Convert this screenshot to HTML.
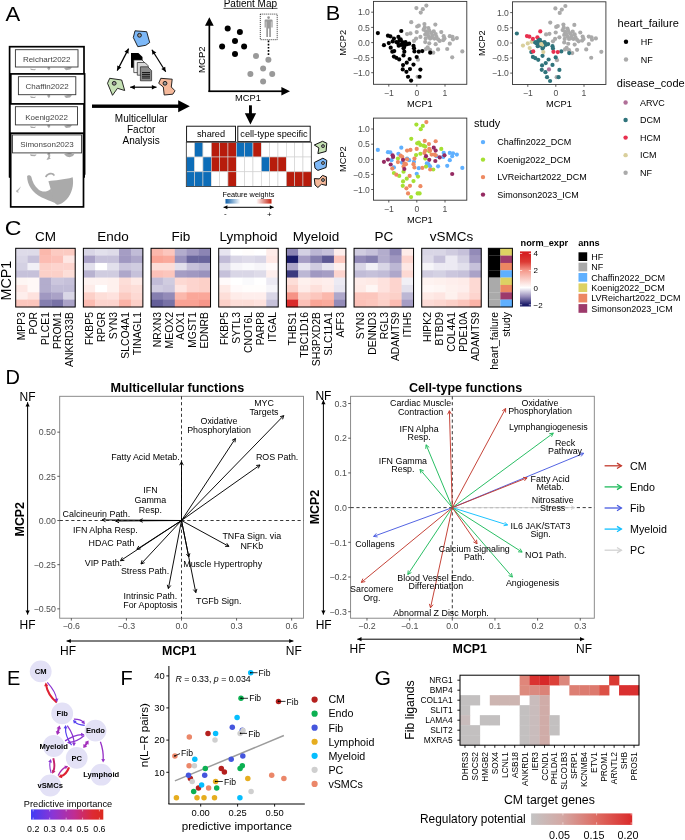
<!DOCTYPE html>
<html lang="en"><head><meta charset="utf-8"><title>Figure</title>
<style>
html,body{margin:0;padding:0;background:#fff;}
svg{display:block;font-family:"Liberation Sans",Arial,Helvetica,sans-serif;}
</style></head>
<body>
<svg width="685" height="840" viewBox="0 0 685 840">
<rect x="0" y="0" width="685" height="840" fill="#ffffff"/>
<g id="panelA">
<text transform="translate(5.6,21.2) scale(1.1,1)" font-size="20">A</text>
<rect x="9.60" y="46.70" width="74.40" height="130.00" fill="#fff" stroke="#000" stroke-width="1.7"/>
<path d="M30,68.5 l4,0.8 l2,-0.6 l-1,1.6 l-4,-0.2z M47,68.0 l2.2,-1.8 l1.2,2 l-1.5,2.2z M64,68.0 l5,-1 l3,0.4 l-2,2.2 l-4,0.6z" fill="#aaaaaa"/>
<rect x="15.40" y="49.70" width="62.60" height="17.30" fill="#fff" stroke="#333" stroke-width="0.9"/>
<text x="46.70" y="62.20" font-size="8" text-anchor="middle" fill="#444">Reichart2022</text>
<rect x="10.80" y="73.90" width="73.80" height="100.00" fill="#fff" stroke="#000" stroke-width="1.7"/>
<path d="M30,96.3 l4,0.8 l2,-0.6 l-1,1.6 l-4,-0.2z M47,95.8 l2.2,-1.8 l1.2,2 l-1.5,2.2z M64,95.8 l5,-1 l3,0.4 l-2,2.2 l-4,0.6z" fill="#aaaaaa"/>
<rect x="18.40" y="76.70" width="57.40" height="18.00" fill="#fff" stroke="#333" stroke-width="0.9"/>
<text x="47.10" y="89.30" font-size="8" text-anchor="middle" fill="#444">Chaffin2022</text>
<rect x="9.90" y="103.90" width="74.10" height="72.80" fill="#fff" stroke="#000" stroke-width="1.7"/>
<path d="M30,126.3 l4,0.8 l2,-0.6 l-1,1.6 l-4,-0.2z M47,125.8 l2.2,-1.8 l1.2,2 l-1.5,2.2z M64,125.8 l5,-1 l3,0.4 l-2,2.2 l-4,0.6z" fill="#aaaaaa"/>
<rect x="15.40" y="106.70" width="62.10" height="18.20" fill="#fff" stroke="#333" stroke-width="0.9"/>
<text x="46.50" y="119.80" font-size="8" text-anchor="middle" fill="#444">Koenig2022</text>
<rect x="10.70" y="133.20" width="72.80" height="73.70" fill="#fff" stroke="#000" stroke-width="1.7"/>
<path d="M30,154.4 l4,0.8 l2,-0.6 l-1,1.6 l-4,-0.2z M47,153.9 l2.2,-1.8 l1.2,2 l-1.5,2.2z M64,153.9 l5,-1 l3,0.4 l-2,2.2 l-4,0.6z" fill="#aaaaaa"/>
<path d="M46.5,160 l2.6,-5 l1.4,0.6 l-0.8,2.2 l1.2,0.6 l-2.4,1.2z M65.5,154.6 l9,-0.8 l-1.5,2.2 l-3.5,1.2 l-3,-0.8z M30,154.6 l7,0.2 l-2,1 l-3.5,0.2z" fill="#aaaaaa"/>
<rect x="12.40" y="134.90" width="69.20" height="18.00" fill="#fff" stroke="#333" stroke-width="0.9"/>
<text x="47.00" y="146.80" font-size="8" text-anchor="middle" fill="#444">Simonson2023</text>
<path d="M27.1,176.3 C27.1,184.2 31.9,192.7 41.8,197.6 C45.7,199.4 50.3,201.2 54.9,203.1 L53.9,195.3 L50.6,188.9 C46.4,192.3 42.4,192.3 38.5,189.4 C34.6,186.1 32.3,181.5 31.3,176.7 C30.0,175.0 27.6,175.0 27.1,176.3 Z" fill="#aaaaaa"/>
<path d="M48.4,181.3 C54.9,180.0 64.1,180.0 72.7,177.3 C74.0,185.5 72.0,193.4 66.8,199.3 C63.5,202.8 60.2,204.5 57.6,204.7 C55.6,204.1 54.3,202.6 53.4,199.9 C52.0,194.0 50.3,187.4 48.4,181.3 Z" fill="#aaaaaa"/>
<path d="M45.1,176.9 C45.7,173.0 53.0,171.0 54.9,175.0 L53.9,176.3 C52.3,173.6 47.7,174.3 46.8,177.3 Z" fill="#aaaaaa"/>
<path d="M15.8,191.0 L18.1,189.2 L21.0,186.3 L19.7,188.9 L18.1,191.0 L18.7,192.8 L16.8,192.3 Z" fill="#b5b5b5"/>
<polygon points="135.00,30.80 146.70,31.70 149.70,42.50 145.80,45.30 137.80,46.70 133.30,37.50" fill="#7db8f7" stroke="#111" stroke-width="0.9" stroke-linejoin="round"/>
<circle cx="139.50" cy="35.30" r="1.90" fill="#999" stroke="#111" stroke-width="0.9"/>
<polygon points="109.70,78.30 121.70,80.00 124.70,90.50 117.50,88.30 112.50,95.30 107.50,83.30" fill="#c6e2b5" stroke="#111" stroke-width="0.9" stroke-linejoin="round"/>
<circle cx="114.20" cy="83.30" r="1.90" fill="#999" stroke="#111" stroke-width="0.9"/>
<polygon points="160.80,78.30 172.20,79.20 171.30,87.00 175.00,90.80 172.80,94.20 164.20,95.00 163.30,87.00 158.70,83.30" fill="#f5b99b" stroke="#111" stroke-width="0.9" stroke-linejoin="round"/>
<circle cx="165.00" cy="83.30" r="1.90" fill="#999" stroke="#111" stroke-width="0.9"/>
<path d="M131,53 h7.4 l4.1,4.1 v10.6 h-11.5z" fill="#000"/>
<path d="M133.8,60 h8.2 l3.6,3.6 v9 h-11.8z" fill="#f4f4f4" stroke="#222" stroke-width="0.7"/>
<path d="M137.3,62.5 h7.6 l3.3,3.3 v9.4 h-10.9z" fill="#d8d8d8" stroke="#222" stroke-width="0.7"/>
<path d="M140.4,66.8 h7.4 l3.8,3.8 v10.2 h-11.2z" fill="#8c8c8c" stroke="#222" stroke-width="0.7"/>
<line x1="142.00" y1="72.60" x2="150.00" y2="72.60" stroke="#111" stroke-width="1.0"/>
<line x1="142.00" y1="74.40" x2="150.00" y2="74.40" stroke="#111" stroke-width="1.0"/>
<line x1="142.00" y1="76.20" x2="150.00" y2="76.20" stroke="#111" stroke-width="1.0"/>
<line x1="142.00" y1="78.00" x2="150.00" y2="78.00" stroke="#111" stroke-width="1.0"/>
<line x1="128.60" y1="48.60" x2="117.20" y2="70.60" stroke="#000" stroke-width="1.2"/>
<polygon points="117.20,70.60 117.27,65.46 121.36,67.57" fill="#000"/>
<polygon points="128.60,48.60 124.44,51.63 128.53,53.74" fill="#000"/>
<line x1="151.90" y1="49.70" x2="165.70" y2="71.80" stroke="#000" stroke-width="1.2"/>
<polygon points="165.70,71.80 161.31,69.12 165.21,66.68" fill="#000"/>
<polygon points="151.90,49.70 152.39,54.82 156.29,52.38" fill="#000"/>
<line x1="130.20" y1="87.20" x2="156.50" y2="87.20" stroke="#000" stroke-width="1.2"/>
<polygon points="156.50,87.20 151.90,89.50 151.90,84.90" fill="#000"/>
<polygon points="130.20,87.20 134.80,89.50 134.80,84.90" fill="#000"/>
<rect x="92.00" y="104.50" width="88.00" height="3.40" fill="#000" stroke="none" stroke-width="1"/>
<polygon points="189.8,106.2 178.2,100.2 178.2,112.2" fill="#000"/>
<text x="141.20" y="121.80" font-size="10" text-anchor="middle" fill="#000">Multicellular</text>
<text x="141.20" y="133.00" font-size="10" text-anchor="middle" fill="#000">Factor</text>
<text x="141.20" y="144.00" font-size="10" text-anchor="middle" fill="#000">Analysis</text>
<text x="250.40" y="6.90" font-size="10" text-anchor="middle" fill="#000">Patient Map</text>
<line x1="223.50" y1="8.40" x2="277.50" y2="8.40" stroke="#000" stroke-width="0.7"/>
<rect x="208.50" y="24.00" width="1.70" height="68.00" fill="#000" stroke="none" stroke-width="1"/>
<rect x="208.50" y="90.40" width="74.00" height="1.70" fill="#000" stroke="none" stroke-width="1"/>
<polygon points="209.35,17.2 205,25.8 213.7,25.8" fill="#000"/>
<polygon points="290,91.25 281.4,86.9 281.4,95.6" fill="#000"/>
<circle cx="227.70" cy="28.60" r="3.0" fill="#000"/>
<circle cx="239.90" cy="32.10" r="3.0" fill="#000"/>
<circle cx="235.00" cy="41.00" r="3.0" fill="#000"/>
<circle cx="222.10" cy="46.60" r="3.0" fill="#000"/>
<circle cx="244.10" cy="46.60" r="3.0" fill="#000"/>
<circle cx="235.00" cy="54.10" r="3.0" fill="#000"/>
<circle cx="256.00" cy="55.90" r="3.0" fill="#999"/>
<circle cx="268.40" cy="59.70" r="3.0" fill="#999"/>
<circle cx="263.10" cy="68.60" r="3.0" fill="#999"/>
<circle cx="250.40" cy="73.90" r="3.0" fill="#999"/>
<circle cx="272.20" cy="73.90" r="3.0" fill="#999"/>
<circle cx="263.10" cy="81.60" r="3.0" fill="#999"/>
<rect x="260.30" y="14.10" width="16.90" height="25.60" fill="#fff" stroke="#000" stroke-width="0.8" stroke-dasharray="1,1"/>
<line x1="268.50" y1="40.50" x2="268.50" y2="56.50" stroke="#000" stroke-width="1.6" stroke-dasharray="1.7,1.5"/>
<circle cx="268.60" cy="17.60" r="1.35" fill="#999"/>
<path d="M265.6,19.6 h6 q1,0 1,1 v7 h-1.2 v-6 h-0.5 v15.4 h-1.7 v-8.6 h-1.2 v8.6 h-1.7 v-15.4 h-0.5 v6 h-1.2 v-7 q0,-1 1,-1z" fill="#999"/>
<text x="204.70" y="59.70" font-size="9.6" text-anchor="middle" fill="#000" transform="rotate(-90 204.70 59.70)">MCP2</text>
<text x="248.00" y="100.90" font-size="9.3" text-anchor="middle" fill="#000">MCP1</text>
<rect x="249.00" y="105.30" width="2.90" height="9.00" fill="#000" stroke="none" stroke-width="1"/>
<polygon points="250.45,124.6 244.8,113.2 256.1,113.2" fill="#000"/>
<rect x="186.60" y="126.20" width="48.90" height="15.40" fill="#fff" stroke="#000" stroke-width="0.9"/>
<text x="211.00" y="137.40" font-size="9.2" text-anchor="middle" fill="#000">shared</text>
<rect x="237.80" y="126.20" width="72.40" height="15.40" fill="#fff" stroke="#000" stroke-width="0.9"/>
<text x="274.00" y="137.40" font-size="9.2" text-anchor="middle" fill="#000">cell-type specific</text>
<rect x="186.30" y="142.20" width="8.33" height="14.80" fill="#ffffff" stroke="#d0d0d0" stroke-width="0.6"/>
<rect x="194.63" y="142.20" width="8.33" height="14.80" fill="#0d6db8" stroke="#d0d0d0" stroke-width="0.6"/>
<rect x="202.97" y="142.20" width="8.33" height="14.80" fill="#ffffff" stroke="#d0d0d0" stroke-width="0.6"/>
<rect x="211.30" y="142.20" width="8.33" height="14.80" fill="#b71c0c" stroke="#d0d0d0" stroke-width="0.6"/>
<rect x="219.63" y="142.20" width="8.33" height="14.80" fill="#b71c0c" stroke="#d0d0d0" stroke-width="0.6"/>
<rect x="227.97" y="142.20" width="8.33" height="14.80" fill="#b71c0c" stroke="#d0d0d0" stroke-width="0.6"/>
<rect x="236.30" y="142.20" width="8.33" height="14.80" fill="#0d6db8" stroke="#d0d0d0" stroke-width="0.6"/>
<rect x="244.63" y="142.20" width="8.33" height="14.80" fill="#0d6db8" stroke="#d0d0d0" stroke-width="0.6"/>
<rect x="252.97" y="142.20" width="8.33" height="14.80" fill="#b71c0c" stroke="#d0d0d0" stroke-width="0.6"/>
<rect x="261.30" y="142.20" width="8.33" height="14.80" fill="#ffffff" stroke="#d0d0d0" stroke-width="0.6"/>
<rect x="269.63" y="142.20" width="8.33" height="14.80" fill="#ffffff" stroke="#d0d0d0" stroke-width="0.6"/>
<rect x="277.97" y="142.20" width="8.33" height="14.80" fill="#ffffff" stroke="#d0d0d0" stroke-width="0.6"/>
<rect x="286.30" y="142.20" width="8.33" height="14.80" fill="#ffffff" stroke="#d0d0d0" stroke-width="0.6"/>
<rect x="294.63" y="142.20" width="8.33" height="14.80" fill="#ffffff" stroke="#d0d0d0" stroke-width="0.6"/>
<rect x="302.97" y="142.20" width="8.33" height="14.80" fill="#ffffff" stroke="#d0d0d0" stroke-width="0.6"/>
<rect x="186.30" y="157.00" width="8.33" height="14.80" fill="#0d6db8" stroke="#d0d0d0" stroke-width="0.6"/>
<rect x="194.63" y="157.00" width="8.33" height="14.80" fill="#ffffff" stroke="#d0d0d0" stroke-width="0.6"/>
<rect x="202.97" y="157.00" width="8.33" height="14.80" fill="#0d6db8" stroke="#d0d0d0" stroke-width="0.6"/>
<rect x="211.30" y="157.00" width="8.33" height="14.80" fill="#b71c0c" stroke="#d0d0d0" stroke-width="0.6"/>
<rect x="219.63" y="157.00" width="8.33" height="14.80" fill="#b71c0c" stroke="#d0d0d0" stroke-width="0.6"/>
<rect x="227.97" y="157.00" width="8.33" height="14.80" fill="#b71c0c" stroke="#d0d0d0" stroke-width="0.6"/>
<rect x="236.30" y="157.00" width="8.33" height="14.80" fill="#ffffff" stroke="#d0d0d0" stroke-width="0.6"/>
<rect x="244.63" y="157.00" width="8.33" height="14.80" fill="#ffffff" stroke="#d0d0d0" stroke-width="0.6"/>
<rect x="252.97" y="157.00" width="8.33" height="14.80" fill="#ffffff" stroke="#d0d0d0" stroke-width="0.6"/>
<rect x="261.30" y="157.00" width="8.33" height="14.80" fill="#0d6db8" stroke="#d0d0d0" stroke-width="0.6"/>
<rect x="269.63" y="157.00" width="8.33" height="14.80" fill="#b71c0c" stroke="#d0d0d0" stroke-width="0.6"/>
<rect x="277.97" y="157.00" width="8.33" height="14.80" fill="#b71c0c" stroke="#d0d0d0" stroke-width="0.6"/>
<rect x="286.30" y="157.00" width="8.33" height="14.80" fill="#ffffff" stroke="#d0d0d0" stroke-width="0.6"/>
<rect x="294.63" y="157.00" width="8.33" height="14.80" fill="#ffffff" stroke="#d0d0d0" stroke-width="0.6"/>
<rect x="302.97" y="157.00" width="8.33" height="14.80" fill="#ffffff" stroke="#d0d0d0" stroke-width="0.6"/>
<rect x="186.30" y="171.80" width="8.33" height="14.80" fill="#0d6db8" stroke="#d0d0d0" stroke-width="0.6"/>
<rect x="194.63" y="171.80" width="8.33" height="14.80" fill="#0d6db8" stroke="#d0d0d0" stroke-width="0.6"/>
<rect x="202.97" y="171.80" width="8.33" height="14.80" fill="#0d6db8" stroke="#d0d0d0" stroke-width="0.6"/>
<rect x="211.30" y="171.80" width="8.33" height="14.80" fill="#ffffff" stroke="#d0d0d0" stroke-width="0.6"/>
<rect x="219.63" y="171.80" width="8.33" height="14.80" fill="#ffffff" stroke="#d0d0d0" stroke-width="0.6"/>
<rect x="227.97" y="171.80" width="8.33" height="14.80" fill="#b71c0c" stroke="#d0d0d0" stroke-width="0.6"/>
<rect x="236.30" y="171.80" width="8.33" height="14.80" fill="#ffffff" stroke="#d0d0d0" stroke-width="0.6"/>
<rect x="244.63" y="171.80" width="8.33" height="14.80" fill="#ffffff" stroke="#d0d0d0" stroke-width="0.6"/>
<rect x="252.97" y="171.80" width="8.33" height="14.80" fill="#ffffff" stroke="#d0d0d0" stroke-width="0.6"/>
<rect x="261.30" y="171.80" width="8.33" height="14.80" fill="#ffffff" stroke="#d0d0d0" stroke-width="0.6"/>
<rect x="269.63" y="171.80" width="8.33" height="14.80" fill="#ffffff" stroke="#d0d0d0" stroke-width="0.6"/>
<rect x="277.97" y="171.80" width="8.33" height="14.80" fill="#ffffff" stroke="#d0d0d0" stroke-width="0.6"/>
<rect x="286.30" y="171.80" width="8.33" height="14.80" fill="#b71c0c" stroke="#d0d0d0" stroke-width="0.6"/>
<rect x="294.63" y="171.80" width="8.33" height="14.80" fill="#b71c0c" stroke="#d0d0d0" stroke-width="0.6"/>
<rect x="302.97" y="171.80" width="8.33" height="14.80" fill="#b71c0c" stroke="#d0d0d0" stroke-width="0.6"/>
<rect x="186.30" y="142.20" width="125.00" height="44.40" fill="none" stroke="#333" stroke-width="0.8"/>
<polygon points="314.3,145.0 322.5,141.3 326.8,143.2 326.1,151.4 317.9,153.6 318.9,147.9" fill="#c6e2b5" stroke="#111" stroke-width="1.0" stroke-linejoin="round"/>
<circle cx="323.0" cy="146.1" r="1.5" fill="#999" stroke="#111" stroke-width="0.8"/>
<polygon points="314.3,162.5 322.9,158.2 326.8,160.4 326.1,167.5 317.9,170.4 315.0,168.2" fill="#7db8f7" stroke="#111" stroke-width="1.0" stroke-linejoin="round"/>
<circle cx="323.0" cy="163.0" r="1.5" fill="#999" stroke="#111" stroke-width="0.8"/>
<polygon points="314.3,178.6 319.3,178.9 322.5,175.4 326.4,176.8 326.4,185.4 321.4,184.3 317.9,187.5 315.0,185.0" fill="#f5b99b" stroke="#111" stroke-width="1.0" stroke-linejoin="round"/>
<circle cx="323.0" cy="180.0" r="1.5" fill="#999" stroke="#111" stroke-width="0.8"/>
<text x="248.40" y="196.80" font-size="7.3" text-anchor="middle" fill="#000">Feature weights</text>
<defs><linearGradient id="gb" x1="0" x2="1" y1="0" y2="0"><stop offset="0" stop-color="#0d5ea8"/><stop offset="1" stop-color="#ffffff"/></linearGradient><linearGradient id="gr" x1="0" x2="1" y1="0" y2="0"><stop offset="0" stop-color="#ffffff"/><stop offset="1" stop-color="#c4200f"/></linearGradient></defs>
<rect x="225.50" y="199.00" width="14.80" height="4.60" fill="url(#gb)" stroke="none" stroke-width="1"/>
<rect x="256.20" y="199.00" width="15.30" height="4.60" fill="url(#gr)" stroke="none" stroke-width="1"/>
<line x1="223.60" y1="207.30" x2="273.60" y2="207.30" stroke="#000" stroke-width="1.0"/>
<polygon points="273.60,207.30 269.80,209.30 269.80,205.30" fill="#000"/>
<polygon points="223.60,207.30 227.40,209.30 227.40,205.30" fill="#000"/>
<text x="225.30" y="216.00" font-size="8" text-anchor="middle" fill="#000">-</text>
<text x="269.30" y="217.20" font-size="8" text-anchor="middle" fill="#000">+</text>
</g>
<g id="panelB">
<text transform="translate(325.8,20.4) scale(1.12,1)" font-size="19.4">B</text>
<rect x="373.50" y="1.40" width="93.30" height="82.90" fill="#fff" stroke="#333" stroke-width="0.9"/>
<line x1="371.20" y1="12.20" x2="373.50" y2="12.20" stroke="#333" stroke-width="0.8"/>
<text x="369.90" y="15.30" font-size="8.6" text-anchor="end" fill="#4d4d4d">1.0</text>
<line x1="371.20" y1="27.40" x2="373.50" y2="27.40" stroke="#333" stroke-width="0.8"/>
<text x="369.90" y="30.50" font-size="8.6" text-anchor="end" fill="#4d4d4d">0.5</text>
<line x1="371.20" y1="42.60" x2="373.50" y2="42.60" stroke="#333" stroke-width="0.8"/>
<text x="369.90" y="45.70" font-size="8.6" text-anchor="end" fill="#4d4d4d">0.0</text>
<line x1="371.20" y1="57.60" x2="373.50" y2="57.60" stroke="#333" stroke-width="0.8"/>
<text x="369.90" y="60.70" font-size="8.6" text-anchor="end" fill="#4d4d4d">−0.5</text>
<line x1="371.20" y1="72.70" x2="373.50" y2="72.70" stroke="#333" stroke-width="0.8"/>
<text x="369.90" y="75.80" font-size="8.6" text-anchor="end" fill="#4d4d4d">−1.0</text>
<line x1="388.80" y1="84.30" x2="388.80" y2="86.60" stroke="#333" stroke-width="0.8"/>
<text x="388.80" y="95.70" font-size="8.6" text-anchor="middle" fill="#4d4d4d">−1</text>
<line x1="416.80" y1="84.30" x2="416.80" y2="86.60" stroke="#333" stroke-width="0.8"/>
<text x="416.80" y="95.70" font-size="8.6" text-anchor="middle" fill="#4d4d4d">0</text>
<line x1="445.00" y1="84.30" x2="445.00" y2="86.60" stroke="#333" stroke-width="0.8"/>
<text x="445.00" y="95.70" font-size="8.6" text-anchor="middle" fill="#4d4d4d">1</text>
<text x="346.40" y="42.85" font-size="9.3" text-anchor="middle" fill="#000" transform="rotate(-90 346.40 42.85)">MCP2</text>
<text x="419.85" y="107.00" font-size="9.3" text-anchor="middle" fill="#000">MCP1</text>
<circle cx="416.39" cy="8.03" r="2.1" fill="#aaaaaa"/>
<circle cx="426.35" cy="5.62" r="2.1" fill="#aaaaaa"/>
<circle cx="422.81" cy="9.15" r="2.1" fill="#aaaaaa"/>
<circle cx="420.73" cy="12.53" r="2.1" fill="#aaaaaa"/>
<circle cx="411.25" cy="22.16" r="2.1" fill="#aaaaaa"/>
<circle cx="407.07" cy="34.05" r="2.1" fill="#aaaaaa"/>
<circle cx="410.45" cy="33.40" r="2.1" fill="#aaaaaa"/>
<circle cx="416.07" cy="38.54" r="2.1" fill="#aaaaaa"/>
<circle cx="413.98" cy="40.95" r="2.1" fill="#aaaaaa"/>
<circle cx="417.19" cy="26.50" r="2.1" fill="#aaaaaa"/>
<circle cx="418.80" cy="25.69" r="2.1" fill="#aaaaaa"/>
<circle cx="416.71" cy="32.12" r="2.1" fill="#aaaaaa"/>
<circle cx="420.40" cy="36.94" r="2.1" fill="#aaaaaa"/>
<circle cx="424.42" cy="24.09" r="2.1" fill="#aaaaaa"/>
<circle cx="424.74" cy="27.30" r="2.1" fill="#aaaaaa"/>
<circle cx="423.62" cy="29.71" r="2.1" fill="#aaaaaa"/>
<circle cx="426.02" cy="31.32" r="2.1" fill="#aaaaaa"/>
<circle cx="425.22" cy="34.53" r="2.1" fill="#aaaaaa"/>
<circle cx="425.70" cy="38.54" r="2.1" fill="#aaaaaa"/>
<circle cx="425.22" cy="42.07" r="2.1" fill="#aaaaaa"/>
<circle cx="428.43" cy="28.10" r="2.1" fill="#aaaaaa"/>
<circle cx="429.24" cy="30.51" r="2.1" fill="#aaaaaa"/>
<circle cx="427.63" cy="33.72" r="2.1" fill="#aaaaaa"/>
<circle cx="428.43" cy="36.13" r="2.1" fill="#aaaaaa"/>
<circle cx="430.04" cy="38.54" r="2.1" fill="#aaaaaa"/>
<circle cx="431.16" cy="32.92" r="2.1" fill="#aaaaaa"/>
<circle cx="432.45" cy="35.33" r="2.1" fill="#aaaaaa"/>
<circle cx="431.65" cy="37.74" r="2.1" fill="#aaaaaa"/>
<circle cx="433.73" cy="31.32" r="2.1" fill="#aaaaaa"/>
<circle cx="435.34" cy="24.57" r="2.1" fill="#aaaaaa"/>
<circle cx="435.66" cy="34.05" r="2.1" fill="#aaaaaa"/>
<circle cx="434.38" cy="38.54" r="2.1" fill="#aaaaaa"/>
<circle cx="436.46" cy="36.94" r="2.1" fill="#aaaaaa"/>
<circle cx="438.07" cy="39.34" r="2.1" fill="#aaaaaa"/>
<circle cx="439.67" cy="40.95" r="2.1" fill="#aaaaaa"/>
<circle cx="441.28" cy="32.12" r="2.1" fill="#aaaaaa"/>
<circle cx="443.69" cy="36.13" r="2.1" fill="#aaaaaa"/>
<circle cx="444.49" cy="38.54" r="2.1" fill="#aaaaaa"/>
<circle cx="443.21" cy="40.15" r="2.1" fill="#aaaaaa"/>
<circle cx="449.79" cy="36.13" r="2.1" fill="#aaaaaa"/>
<circle cx="452.52" cy="36.94" r="2.1" fill="#aaaaaa"/>
<circle cx="453.00" cy="39.34" r="2.1" fill="#aaaaaa"/>
<circle cx="456.86" cy="38.06" r="2.1" fill="#aaaaaa"/>
<circle cx="449.79" cy="43.68" r="2.1" fill="#aaaaaa"/>
<circle cx="435.66" cy="44.16" r="2.1" fill="#aaaaaa"/>
<circle cx="438.07" cy="49.46" r="2.1" fill="#aaaaaa"/>
<circle cx="429.24" cy="43.36" r="2.1" fill="#aaaaaa"/>
<circle cx="427.63" cy="47.37" r="2.1" fill="#aaaaaa"/>
<circle cx="426.02" cy="48.98" r="2.1" fill="#aaaaaa"/>
<circle cx="430.04" cy="49.78" r="2.1" fill="#aaaaaa"/>
<circle cx="433.25" cy="52.67" r="2.1" fill="#aaaaaa"/>
<circle cx="447.22" cy="48.98" r="2.1" fill="#aaaaaa"/>
<circle cx="452.20" cy="57.33" r="2.1" fill="#aaaaaa"/>
<circle cx="462.32" cy="51.39" r="2.1" fill="#aaaaaa"/>
<circle cx="418.00" cy="59.74" r="2.1" fill="#aaaaaa"/>
<circle cx="417.67" cy="76.76" r="2.1" fill="#aaaaaa"/>
<circle cx="377.85" cy="33.08" r="2.1" fill="#000000"/>
<circle cx="383.95" cy="45.13" r="2.1" fill="#000000"/>
<circle cx="387.96" cy="35.65" r="2.1" fill="#000000"/>
<circle cx="390.37" cy="36.29" r="2.1" fill="#000000"/>
<circle cx="388.77" cy="43.04" r="2.1" fill="#000000"/>
<circle cx="390.69" cy="47.70" r="2.1" fill="#000000"/>
<circle cx="392.62" cy="41.43" r="2.1" fill="#000000"/>
<circle cx="393.91" cy="38.54" r="2.1" fill="#000000"/>
<circle cx="392.30" cy="51.71" r="2.1" fill="#000000"/>
<circle cx="394.23" cy="51.07" r="2.1" fill="#000000"/>
<circle cx="393.91" cy="56.53" r="2.1" fill="#000000"/>
<circle cx="396.32" cy="57.81" r="2.1" fill="#000000"/>
<circle cx="399.21" cy="59.42" r="2.1" fill="#000000"/>
<circle cx="398.40" cy="36.94" r="2.1" fill="#000000"/>
<circle cx="397.92" cy="43.04" r="2.1" fill="#000000"/>
<circle cx="398.72" cy="45.77" r="2.1" fill="#000000"/>
<circle cx="400.65" cy="39.34" r="2.1" fill="#000000"/>
<circle cx="402.26" cy="42.07" r="2.1" fill="#000000"/>
<circle cx="403.54" cy="44.16" r="2.1" fill="#000000"/>
<circle cx="404.34" cy="46.57" r="2.1" fill="#000000"/>
<circle cx="405.47" cy="42.07" r="2.1" fill="#000000"/>
<circle cx="407.07" cy="44.16" r="2.1" fill="#000000"/>
<circle cx="401.29" cy="30.99" r="2.1" fill="#000000"/>
<circle cx="403.54" cy="48.18" r="2.1" fill="#000000"/>
<circle cx="404.34" cy="51.71" r="2.1" fill="#000000"/>
<circle cx="403.54" cy="55.40" r="2.1" fill="#000000"/>
<circle cx="409.16" cy="43.68" r="2.1" fill="#000000"/>
<circle cx="413.50" cy="45.77" r="2.1" fill="#000000"/>
<circle cx="413.98" cy="48.18" r="2.1" fill="#000000"/>
<circle cx="414.46" cy="51.39" r="2.1" fill="#000000"/>
<circle cx="418.80" cy="51.71" r="2.1" fill="#000000"/>
<circle cx="422.33" cy="51.07" r="2.1" fill="#000000"/>
<circle cx="430.20" cy="52.67" r="2.1" fill="#000000"/>
<circle cx="416.71" cy="57.01" r="2.1" fill="#000000"/>
<circle cx="409.64" cy="59.10" r="2.1" fill="#000000"/>
<circle cx="406.75" cy="62.63" r="2.1" fill="#000000"/>
<circle cx="413.50" cy="64.56" r="2.1" fill="#000000"/>
<circle cx="403.06" cy="65.04" r="2.1" fill="#000000"/>
<circle cx="409.97" cy="69.05" r="2.1" fill="#000000"/>
<circle cx="402.74" cy="69.38" r="2.1" fill="#000000"/>
<circle cx="406.43" cy="71.78" r="2.1" fill="#000000"/>
<circle cx="420.40" cy="69.54" r="2.1" fill="#000000"/>
<circle cx="408.04" cy="76.76" r="2.1" fill="#000000"/>
<circle cx="419.60" cy="76.76" r="2.1" fill="#000000"/>
<circle cx="411.09" cy="80.62" r="2.1" fill="#000000"/>
<circle cx="399.53" cy="40.15" r="2.1" fill="#000000"/>
<circle cx="401.13" cy="44.97" r="2.1" fill="#000000"/>
<circle cx="396.32" cy="42.07" r="2.1" fill="#000000"/>
<rect x="512.50" y="1.80" width="93.40" height="82.70" fill="#fff" stroke="#333" stroke-width="0.9"/>
<line x1="510.20" y1="12.60" x2="512.50" y2="12.60" stroke="#333" stroke-width="0.8"/>
<text x="508.90" y="15.70" font-size="8.6" text-anchor="end" fill="#4d4d4d">1.0</text>
<line x1="510.20" y1="27.80" x2="512.50" y2="27.80" stroke="#333" stroke-width="0.8"/>
<text x="508.90" y="30.90" font-size="8.6" text-anchor="end" fill="#4d4d4d">0.5</text>
<line x1="510.20" y1="43.00" x2="512.50" y2="43.00" stroke="#333" stroke-width="0.8"/>
<text x="508.90" y="46.10" font-size="8.6" text-anchor="end" fill="#4d4d4d">0.0</text>
<line x1="510.20" y1="58.00" x2="512.50" y2="58.00" stroke="#333" stroke-width="0.8"/>
<text x="508.90" y="61.10" font-size="8.6" text-anchor="end" fill="#4d4d4d">−0.5</text>
<line x1="510.20" y1="73.10" x2="512.50" y2="73.10" stroke="#333" stroke-width="0.8"/>
<text x="508.90" y="76.20" font-size="8.6" text-anchor="end" fill="#4d4d4d">−1.0</text>
<line x1="527.80" y1="84.50" x2="527.80" y2="86.80" stroke="#333" stroke-width="0.8"/>
<text x="527.80" y="95.90" font-size="8.6" text-anchor="middle" fill="#4d4d4d">−1</text>
<line x1="555.80" y1="84.50" x2="555.80" y2="86.80" stroke="#333" stroke-width="0.8"/>
<text x="555.80" y="95.90" font-size="8.6" text-anchor="middle" fill="#4d4d4d">0</text>
<line x1="584.00" y1="84.50" x2="584.00" y2="86.80" stroke="#333" stroke-width="0.8"/>
<text x="584.00" y="95.90" font-size="8.6" text-anchor="middle" fill="#4d4d4d">1</text>
<text x="485.40" y="43.15" font-size="9.3" text-anchor="middle" fill="#000" transform="rotate(-90 485.40 43.15)">MCP2</text>
<text x="558.90" y="107.20" font-size="9.3" text-anchor="middle" fill="#000">MCP1</text>
<circle cx="555.39" cy="8.43" r="2.1" fill="#aaaaaa"/>
<circle cx="565.35" cy="6.02" r="2.1" fill="#aaaaaa"/>
<circle cx="561.81" cy="9.55" r="2.1" fill="#aaaaaa"/>
<circle cx="559.73" cy="12.93" r="2.1" fill="#aaaaaa"/>
<circle cx="550.25" cy="22.56" r="2.1" fill="#aaaaaa"/>
<circle cx="546.07" cy="34.45" r="2.1" fill="#aaaaaa"/>
<circle cx="549.45" cy="33.80" r="2.1" fill="#aaaaaa"/>
<circle cx="555.07" cy="38.94" r="2.1" fill="#aaaaaa"/>
<circle cx="552.98" cy="41.35" r="2.1" fill="#aaaaaa"/>
<circle cx="556.19" cy="26.90" r="2.1" fill="#aaaaaa"/>
<circle cx="557.80" cy="26.09" r="2.1" fill="#aaaaaa"/>
<circle cx="555.71" cy="32.52" r="2.1" fill="#aaaaaa"/>
<circle cx="559.40" cy="37.34" r="2.1" fill="#aaaaaa"/>
<circle cx="563.42" cy="24.49" r="2.1" fill="#aaaaaa"/>
<circle cx="563.74" cy="27.70" r="2.1" fill="#aaaaaa"/>
<circle cx="562.62" cy="30.11" r="2.1" fill="#aaaaaa"/>
<circle cx="565.02" cy="31.72" r="2.1" fill="#aaaaaa"/>
<circle cx="564.22" cy="34.93" r="2.1" fill="#aaaaaa"/>
<circle cx="564.70" cy="38.94" r="2.1" fill="#aaaaaa"/>
<circle cx="564.22" cy="42.47" r="2.1" fill="#aaaaaa"/>
<circle cx="567.43" cy="28.50" r="2.1" fill="#aaaaaa"/>
<circle cx="568.24" cy="30.91" r="2.1" fill="#aaaaaa"/>
<circle cx="566.63" cy="34.12" r="2.1" fill="#aaaaaa"/>
<circle cx="567.43" cy="36.53" r="2.1" fill="#aaaaaa"/>
<circle cx="569.04" cy="38.94" r="2.1" fill="#aaaaaa"/>
<circle cx="570.16" cy="33.32" r="2.1" fill="#aaaaaa"/>
<circle cx="571.45" cy="35.73" r="2.1" fill="#aaaaaa"/>
<circle cx="570.65" cy="38.14" r="2.1" fill="#aaaaaa"/>
<circle cx="572.73" cy="31.72" r="2.1" fill="#aaaaaa"/>
<circle cx="574.34" cy="24.97" r="2.1" fill="#aaaaaa"/>
<circle cx="574.66" cy="34.45" r="2.1" fill="#aaaaaa"/>
<circle cx="573.38" cy="38.94" r="2.1" fill="#aaaaaa"/>
<circle cx="575.46" cy="37.34" r="2.1" fill="#aaaaaa"/>
<circle cx="577.07" cy="39.74" r="2.1" fill="#aaaaaa"/>
<circle cx="578.67" cy="41.35" r="2.1" fill="#aaaaaa"/>
<circle cx="580.28" cy="32.52" r="2.1" fill="#aaaaaa"/>
<circle cx="582.69" cy="36.53" r="2.1" fill="#aaaaaa"/>
<circle cx="583.49" cy="38.94" r="2.1" fill="#aaaaaa"/>
<circle cx="582.21" cy="40.55" r="2.1" fill="#aaaaaa"/>
<circle cx="588.79" cy="36.53" r="2.1" fill="#aaaaaa"/>
<circle cx="591.52" cy="37.34" r="2.1" fill="#aaaaaa"/>
<circle cx="592.00" cy="39.74" r="2.1" fill="#aaaaaa"/>
<circle cx="595.86" cy="38.46" r="2.1" fill="#aaaaaa"/>
<circle cx="588.79" cy="44.08" r="2.1" fill="#aaaaaa"/>
<circle cx="574.66" cy="44.56" r="2.1" fill="#aaaaaa"/>
<circle cx="577.07" cy="49.86" r="2.1" fill="#aaaaaa"/>
<circle cx="568.24" cy="43.76" r="2.1" fill="#aaaaaa"/>
<circle cx="566.63" cy="47.77" r="2.1" fill="#aaaaaa"/>
<circle cx="565.02" cy="49.38" r="2.1" fill="#aaaaaa"/>
<circle cx="569.04" cy="50.18" r="2.1" fill="#aaaaaa"/>
<circle cx="572.25" cy="53.07" r="2.1" fill="#aaaaaa"/>
<circle cx="586.22" cy="49.38" r="2.1" fill="#aaaaaa"/>
<circle cx="591.20" cy="57.73" r="2.1" fill="#aaaaaa"/>
<circle cx="601.32" cy="51.79" r="2.1" fill="#aaaaaa"/>
<circle cx="557.00" cy="60.14" r="2.1" fill="#aaaaaa"/>
<circle cx="556.67" cy="77.16" r="2.1" fill="#aaaaaa"/>
<circle cx="516.85" cy="33.48" r="2.1" fill="#2f737b"/>
<circle cx="531.30" cy="52.11" r="2.1" fill="#2f737b"/>
<circle cx="532.91" cy="56.93" r="2.1" fill="#2f737b"/>
<circle cx="535.32" cy="58.21" r="2.1" fill="#2f737b"/>
<circle cx="538.21" cy="59.82" r="2.1" fill="#2f737b"/>
<circle cx="536.92" cy="43.44" r="2.1" fill="#2f737b"/>
<circle cx="537.72" cy="46.17" r="2.1" fill="#2f737b"/>
<circle cx="539.65" cy="39.74" r="2.1" fill="#2f737b"/>
<circle cx="541.26" cy="42.47" r="2.1" fill="#2f737b"/>
<circle cx="543.34" cy="46.97" r="2.1" fill="#2f737b"/>
<circle cx="544.47" cy="42.47" r="2.1" fill="#2f737b"/>
<circle cx="546.07" cy="44.56" r="2.1" fill="#2f737b"/>
<circle cx="542.54" cy="48.58" r="2.1" fill="#2f737b"/>
<circle cx="542.54" cy="55.80" r="2.1" fill="#2f737b"/>
<circle cx="548.16" cy="44.08" r="2.1" fill="#2f737b"/>
<circle cx="552.50" cy="46.17" r="2.1" fill="#2f737b"/>
<circle cx="552.98" cy="48.58" r="2.1" fill="#2f737b"/>
<circle cx="561.33" cy="51.47" r="2.1" fill="#2f737b"/>
<circle cx="569.20" cy="53.07" r="2.1" fill="#2f737b"/>
<circle cx="555.71" cy="57.41" r="2.1" fill="#2f737b"/>
<circle cx="548.64" cy="59.50" r="2.1" fill="#2f737b"/>
<circle cx="545.75" cy="63.03" r="2.1" fill="#2f737b"/>
<circle cx="552.50" cy="64.96" r="2.1" fill="#2f737b"/>
<circle cx="542.06" cy="65.44" r="2.1" fill="#2f737b"/>
<circle cx="541.74" cy="69.78" r="2.1" fill="#2f737b"/>
<circle cx="545.43" cy="72.18" r="2.1" fill="#2f737b"/>
<circle cx="559.40" cy="69.94" r="2.1" fill="#2f737b"/>
<circle cx="547.04" cy="77.16" r="2.1" fill="#2f737b"/>
<circle cx="558.60" cy="77.16" r="2.1" fill="#2f737b"/>
<circle cx="550.09" cy="81.02" r="2.1" fill="#2f737b"/>
<circle cx="538.53" cy="40.55" r="2.1" fill="#2f737b"/>
<circle cx="540.13" cy="45.37" r="2.1" fill="#2f737b"/>
<circle cx="535.32" cy="42.47" r="2.1" fill="#2f737b"/>
<circle cx="522.95" cy="45.53" r="2.1" fill="#d9cf9c"/>
<circle cx="526.96" cy="36.05" r="2.1" fill="#e8304f"/>
<circle cx="529.37" cy="36.69" r="2.1" fill="#e8304f"/>
<circle cx="527.77" cy="43.44" r="2.1" fill="#d9cf9c"/>
<circle cx="529.69" cy="48.10" r="2.1" fill="#d9cf9c"/>
<circle cx="531.62" cy="41.83" r="2.1" fill="#d9cf9c"/>
<circle cx="532.91" cy="38.94" r="2.1" fill="#e8304f"/>
<circle cx="533.23" cy="51.47" r="2.1" fill="#e8304f"/>
<circle cx="537.40" cy="37.34" r="2.1" fill="#e8304f"/>
<circle cx="542.54" cy="44.56" r="2.1" fill="#d9cf9c"/>
<circle cx="540.29" cy="31.39" r="2.1" fill="#e8304f"/>
<circle cx="543.34" cy="52.11" r="2.1" fill="#d9cf9c"/>
<circle cx="553.46" cy="51.79" r="2.1" fill="#e8304f"/>
<circle cx="557.80" cy="52.11" r="2.1" fill="#e8304f"/>
<circle cx="548.97" cy="69.45" r="2.1" fill="#b06f98"/>
<circle cx="538.53" cy="40.55" r="2.1" fill="#2f737b"/>
<circle cx="540.13" cy="45.37" r="2.1" fill="#2f737b"/>
<circle cx="544.47" cy="42.47" r="2.1" fill="#2f737b"/>
<circle cx="546.07" cy="44.56" r="2.1" fill="#2f737b"/>
<circle cx="536.92" cy="43.44" r="2.1" fill="#2f737b"/>
<circle cx="535.32" cy="42.47" r="2.1" fill="#2f737b"/>
<circle cx="539.65" cy="39.74" r="2.1" fill="#2f737b"/>
<circle cx="541.26" cy="44.08" r="2.1" fill="#d9cf9c"/>
<rect x="373.50" y="118.10" width="93.30" height="82.10" fill="#fff" stroke="#333" stroke-width="0.9"/>
<line x1="371.20" y1="129.00" x2="373.50" y2="129.00" stroke="#333" stroke-width="0.8"/>
<text x="369.90" y="132.10" font-size="8.6" text-anchor="end" fill="#4d4d4d">1.0</text>
<line x1="371.20" y1="144.20" x2="373.50" y2="144.20" stroke="#333" stroke-width="0.8"/>
<text x="369.90" y="147.30" font-size="8.6" text-anchor="end" fill="#4d4d4d">0.5</text>
<line x1="371.20" y1="159.40" x2="373.50" y2="159.40" stroke="#333" stroke-width="0.8"/>
<text x="369.90" y="162.50" font-size="8.6" text-anchor="end" fill="#4d4d4d">0.0</text>
<line x1="371.20" y1="174.40" x2="373.50" y2="174.40" stroke="#333" stroke-width="0.8"/>
<text x="369.90" y="177.50" font-size="8.6" text-anchor="end" fill="#4d4d4d">−0.5</text>
<line x1="371.20" y1="189.50" x2="373.50" y2="189.50" stroke="#333" stroke-width="0.8"/>
<text x="369.90" y="192.60" font-size="8.6" text-anchor="end" fill="#4d4d4d">−1.0</text>
<line x1="388.80" y1="200.20" x2="388.80" y2="202.50" stroke="#333" stroke-width="0.8"/>
<text x="388.80" y="211.60" font-size="8.6" text-anchor="middle" fill="#4d4d4d">−1</text>
<line x1="416.80" y1="200.20" x2="416.80" y2="202.50" stroke="#333" stroke-width="0.8"/>
<text x="416.80" y="211.60" font-size="8.6" text-anchor="middle" fill="#4d4d4d">0</text>
<line x1="445.00" y1="200.20" x2="445.00" y2="202.50" stroke="#333" stroke-width="0.8"/>
<text x="445.00" y="211.60" font-size="8.6" text-anchor="middle" fill="#4d4d4d">1</text>
<text x="346.40" y="159.15" font-size="9.3" text-anchor="middle" fill="#000" transform="rotate(-90 346.40 159.15)">MCP2</text>
<text x="419.85" y="222.90" font-size="9.3" text-anchor="middle" fill="#000">MCP1</text>
<circle cx="377.85" cy="149.90" r="2.1" fill="#5fb0ff"/>
<circle cx="387.96" cy="152.15" r="2.1" fill="#5fb0ff"/>
<circle cx="390.37" cy="152.47" r="2.1" fill="#5fb0ff"/>
<circle cx="398.40" cy="153.75" r="2.1" fill="#5fb0ff"/>
<circle cx="401.29" cy="147.65" r="2.1" fill="#5fb0ff"/>
<circle cx="391.50" cy="160.18" r="2.1" fill="#5fb0ff"/>
<circle cx="393.91" cy="167.40" r="2.1" fill="#5fb0ff"/>
<circle cx="407.07" cy="158.57" r="2.1" fill="#5fb0ff"/>
<circle cx="409.16" cy="160.18" r="2.1" fill="#5fb0ff"/>
<circle cx="413.98" cy="161.78" r="2.1" fill="#5fb0ff"/>
<circle cx="418.80" cy="168.21" r="2.1" fill="#5fb0ff"/>
<circle cx="416.71" cy="173.83" r="2.1" fill="#5fb0ff"/>
<circle cx="426.83" cy="163.39" r="2.1" fill="#5fb0ff"/>
<circle cx="428.43" cy="164.19" r="2.1" fill="#5fb0ff"/>
<circle cx="430.04" cy="166.28" r="2.1" fill="#5fb0ff"/>
<circle cx="436.46" cy="156.16" r="2.1" fill="#5fb0ff"/>
<circle cx="438.07" cy="166.28" r="2.1" fill="#5fb0ff"/>
<circle cx="443.69" cy="152.95" r="2.1" fill="#5fb0ff"/>
<circle cx="443.21" cy="156.97" r="2.1" fill="#5fb0ff"/>
<circle cx="449.79" cy="152.95" r="2.1" fill="#5fb0ff"/>
<circle cx="453.00" cy="153.27" r="2.1" fill="#5fb0ff"/>
<circle cx="456.86" cy="154.56" r="2.1" fill="#5fb0ff"/>
<circle cx="452.20" cy="156.16" r="2.1" fill="#5fb0ff"/>
<circle cx="449.79" cy="160.18" r="2.1" fill="#5fb0ff"/>
<circle cx="447.22" cy="165.80" r="2.1" fill="#5fb0ff"/>
<circle cx="462.32" cy="167.89" r="2.1" fill="#5fb0ff"/>
<circle cx="401.94" cy="162.59" r="2.1" fill="#5fb0ff"/>
<circle cx="416.39" cy="124.53" r="2.1" fill="#a5e032"/>
<circle cx="422.81" cy="125.97" r="2.1" fill="#a5e032"/>
<circle cx="420.73" cy="129.18" r="2.1" fill="#a5e032"/>
<circle cx="411.25" cy="138.82" r="2.1" fill="#a5e032"/>
<circle cx="417.19" cy="143.32" r="2.1" fill="#a5e032"/>
<circle cx="418.80" cy="142.51" r="2.1" fill="#a5e032"/>
<circle cx="420.40" cy="144.92" r="2.1" fill="#a5e032"/>
<circle cx="423.62" cy="145.72" r="2.1" fill="#a5e032"/>
<circle cx="425.22" cy="146.53" r="2.1" fill="#a5e032"/>
<circle cx="416.07" cy="155.04" r="2.1" fill="#a5e032"/>
<circle cx="420.40" cy="153.75" r="2.1" fill="#a5e032"/>
<circle cx="429.24" cy="151.34" r="2.1" fill="#a5e032"/>
<circle cx="441.28" cy="148.94" r="2.1" fill="#a5e032"/>
<circle cx="425.22" cy="158.57" r="2.1" fill="#a5e032"/>
<circle cx="426.02" cy="166.60" r="2.1" fill="#a5e032"/>
<circle cx="433.25" cy="169.49" r="2.1" fill="#a5e032"/>
<circle cx="397.92" cy="158.57" r="2.1" fill="#a5e032"/>
<circle cx="403.54" cy="171.74" r="2.1" fill="#a5e032"/>
<circle cx="393.91" cy="173.02" r="2.1" fill="#a5e032"/>
<circle cx="399.21" cy="175.92" r="2.1" fill="#a5e032"/>
<circle cx="418.00" cy="176.56" r="2.1" fill="#a5e032"/>
<circle cx="406.75" cy="178.65" r="2.1" fill="#a5e032"/>
<circle cx="403.06" cy="181.38" r="2.1" fill="#a5e032"/>
<circle cx="413.50" cy="181.05" r="2.1" fill="#a5e032"/>
<circle cx="402.74" cy="185.87" r="2.1" fill="#a5e032"/>
<circle cx="417.67" cy="193.42" r="2.1" fill="#a5e032"/>
<circle cx="419.60" cy="193.42" r="2.1" fill="#a5e032"/>
<circle cx="411.09" cy="197.11" r="2.1" fill="#a5e032"/>
<circle cx="426.35" cy="122.12" r="2.1" fill="#ee8a62"/>
<circle cx="424.74" cy="140.91" r="2.1" fill="#ee8a62"/>
<circle cx="435.66" cy="141.23" r="2.1" fill="#ee8a62"/>
<circle cx="428.92" cy="144.12" r="2.1" fill="#ee8a62"/>
<circle cx="416.71" cy="148.94" r="2.1" fill="#ee8a62"/>
<circle cx="407.07" cy="150.54" r="2.1" fill="#ee8a62"/>
<circle cx="410.45" cy="149.90" r="2.1" fill="#ee8a62"/>
<circle cx="425.22" cy="150.54" r="2.1" fill="#ee8a62"/>
<circle cx="429.24" cy="148.94" r="2.1" fill="#ee8a62"/>
<circle cx="430.04" cy="150.54" r="2.1" fill="#ee8a62"/>
<circle cx="431.65" cy="154.56" r="2.1" fill="#ee8a62"/>
<circle cx="434.38" cy="154.56" r="2.1" fill="#ee8a62"/>
<circle cx="435.66" cy="155.36" r="2.1" fill="#ee8a62"/>
<circle cx="424.42" cy="152.95" r="2.1" fill="#ee8a62"/>
<circle cx="400.65" cy="155.68" r="2.1" fill="#ee8a62"/>
<circle cx="402.26" cy="156.97" r="2.1" fill="#ee8a62"/>
<circle cx="407.07" cy="159.37" r="2.1" fill="#ee8a62"/>
<circle cx="414.46" cy="158.57" r="2.1" fill="#ee8a62"/>
<circle cx="397.92" cy="162.10" r="2.1" fill="#ee8a62"/>
<circle cx="404.34" cy="163.39" r="2.1" fill="#ee8a62"/>
<circle cx="405.95" cy="164.19" r="2.1" fill="#ee8a62"/>
<circle cx="413.50" cy="164.19" r="2.1" fill="#ee8a62"/>
<circle cx="414.46" cy="167.40" r="2.1" fill="#ee8a62"/>
<circle cx="422.33" cy="167.89" r="2.1" fill="#ee8a62"/>
<circle cx="430.20" cy="169.49" r="2.1" fill="#ee8a62"/>
<circle cx="392.30" cy="168.53" r="2.1" fill="#ee8a62"/>
<circle cx="396.32" cy="174.63" r="2.1" fill="#ee8a62"/>
<circle cx="409.64" cy="175.92" r="2.1" fill="#ee8a62"/>
<circle cx="409.97" cy="185.87" r="2.1" fill="#ee8a62"/>
<circle cx="406.43" cy="188.28" r="2.1" fill="#ee8a62"/>
<circle cx="420.40" cy="186.19" r="2.1" fill="#ee8a62"/>
<circle cx="408.04" cy="193.42" r="2.1" fill="#ee8a62"/>
<circle cx="403.54" cy="166.60" r="2.1" fill="#ee8a62"/>
<circle cx="383.95" cy="161.78" r="2.1" fill="#952a62"/>
<circle cx="387.96" cy="159.53" r="2.1" fill="#952a62"/>
<circle cx="392.62" cy="155.36" r="2.1" fill="#952a62"/>
<circle cx="393.10" cy="156.97" r="2.1" fill="#952a62"/>
<circle cx="390.69" cy="164.51" r="2.1" fill="#952a62"/>
<circle cx="403.06" cy="159.86" r="2.1" fill="#952a62"/>
<circle cx="404.34" cy="169.01" r="2.1" fill="#952a62"/>
<circle cx="426.02" cy="156.16" r="2.1" fill="#952a62"/>
<circle cx="429.24" cy="159.86" r="2.1" fill="#952a62"/>
<circle cx="433.73" cy="147.65" r="2.1" fill="#952a62"/>
<circle cx="435.66" cy="150.54" r="2.1" fill="#952a62"/>
<circle cx="435.34" cy="160.98" r="2.1" fill="#952a62"/>
<circle cx="439.67" cy="157.45" r="2.1" fill="#952a62"/>
<circle cx="444.49" cy="155.36" r="2.1" fill="#952a62"/>
<circle cx="452.20" cy="173.99" r="2.1" fill="#952a62"/>
<text x="617.60" y="27.00" font-size="11" text-anchor="start" fill="#000">heart_failure</text>
<circle cx="626.00" cy="41.80" r="2.2" fill="#000"/>
<text x="640.70" y="45.10" font-size="9" text-anchor="start" fill="#000">HF</text>
<circle cx="626.00" cy="59.50" r="2.2" fill="#aaaaaa"/>
<text x="640.70" y="62.80" font-size="9" text-anchor="start" fill="#000">NF</text>
<text x="616.80" y="87.40" font-size="11" text-anchor="start" fill="#000">disease_code</text>
<circle cx="625.60" cy="102.50" r="2.2" fill="#b06f98"/>
<text x="640.00" y="105.80" font-size="9" text-anchor="start" fill="#000">ARVC</text>
<circle cx="625.60" cy="120.05" r="2.2" fill="#2f737b"/>
<text x="640.00" y="123.35" font-size="9" text-anchor="start" fill="#000">DCM</text>
<circle cx="625.60" cy="137.60" r="2.2" fill="#e8304f"/>
<text x="640.00" y="140.90" font-size="9" text-anchor="start" fill="#000">HCM</text>
<circle cx="625.60" cy="155.15" r="2.2" fill="#d9cf9c"/>
<text x="640.00" y="158.45" font-size="9" text-anchor="start" fill="#000">ICM</text>
<circle cx="625.60" cy="172.70" r="2.2" fill="#aaaaaa"/>
<text x="640.00" y="176.00" font-size="9" text-anchor="start" fill="#000">NF</text>
<text x="474.00" y="126.80" font-size="11" text-anchor="start" fill="#000">study</text>
<circle cx="483.00" cy="142.10" r="2.2" fill="#5fb0ff"/>
<text x="497.30" y="145.20" font-size="9" text-anchor="start" fill="#000">Chaffin2022_DCM</text>
<circle cx="483.00" cy="159.60" r="2.2" fill="#a5e032"/>
<text x="497.30" y="162.70" font-size="9" text-anchor="start" fill="#000">Koenig2022_DCM</text>
<circle cx="483.00" cy="177.10" r="2.2" fill="#ee8a62"/>
<text x="497.30" y="180.20" font-size="9" text-anchor="start" fill="#000">LVReichart2022_DCM</text>
<circle cx="483.00" cy="194.60" r="2.2" fill="#952a62"/>
<text x="497.30" y="197.70" font-size="9" text-anchor="start" fill="#000">Simonson2023_ICM</text>
</g>
<g id="panelC">
<text transform="translate(4.8,234.7) scale(1.1,1)" font-size="21">C</text>
<text x="11.40" y="280.60" font-size="14.3" text-anchor="middle" fill="#000" transform="rotate(-90 11.40 280.60)">MCP1</text>
<rect x="15.65" y="248.25" width="12.20" height="7.64" fill="#dedbe9" stroke="none" stroke-width="1"/>
<rect x="27.55" y="248.25" width="12.20" height="7.64" fill="#dedbe9" stroke="none" stroke-width="1"/>
<rect x="39.45" y="248.25" width="12.20" height="7.64" fill="#fbb8ac" stroke="none" stroke-width="1"/>
<rect x="51.35" y="248.25" width="12.20" height="7.64" fill="#fccbc2" stroke="none" stroke-width="1"/>
<rect x="63.25" y="248.25" width="12.20" height="7.64" fill="#fccbc2" stroke="none" stroke-width="1"/>
<rect x="15.65" y="255.59" width="12.20" height="7.64" fill="#d9d6e6" stroke="none" stroke-width="1"/>
<rect x="27.55" y="255.59" width="12.20" height="7.64" fill="#c6c1da" stroke="none" stroke-width="1"/>
<rect x="39.45" y="255.59" width="12.20" height="7.64" fill="#fcbcb2" stroke="none" stroke-width="1"/>
<rect x="51.35" y="255.59" width="12.20" height="7.64" fill="#fcc1b8" stroke="none" stroke-width="1"/>
<rect x="63.25" y="255.59" width="12.20" height="7.64" fill="#fee7e4" stroke="none" stroke-width="1"/>
<rect x="15.65" y="262.93" width="12.20" height="7.64" fill="#d4d1e3" stroke="none" stroke-width="1"/>
<rect x="27.55" y="262.93" width="12.20" height="7.64" fill="#f1f0f6" stroke="none" stroke-width="1"/>
<rect x="39.45" y="262.93" width="12.20" height="7.64" fill="#fcd0c8" stroke="none" stroke-width="1"/>
<rect x="51.35" y="262.93" width="12.20" height="7.64" fill="#fdd4ce" stroke="none" stroke-width="1"/>
<rect x="63.25" y="262.93" width="12.20" height="7.64" fill="#fdd4ce" stroke="none" stroke-width="1"/>
<rect x="15.65" y="270.26" width="12.20" height="7.64" fill="#c6c1da" stroke="none" stroke-width="1"/>
<rect x="27.55" y="270.26" width="12.20" height="7.64" fill="#c6c1da" stroke="none" stroke-width="1"/>
<rect x="39.45" y="270.26" width="12.20" height="7.64" fill="#fcd0c8" stroke="none" stroke-width="1"/>
<rect x="51.35" y="270.26" width="12.20" height="7.64" fill="#fcd0c8" stroke="none" stroke-width="1"/>
<rect x="63.25" y="270.26" width="12.20" height="7.64" fill="#fdded8" stroke="none" stroke-width="1"/>
<rect x="15.65" y="277.60" width="12.20" height="7.64" fill="#fef6f4" stroke="none" stroke-width="1"/>
<rect x="27.55" y="277.60" width="12.20" height="7.64" fill="#fff8f7" stroke="none" stroke-width="1"/>
<rect x="39.45" y="277.60" width="12.20" height="7.64" fill="#b3adcd" stroke="none" stroke-width="1"/>
<rect x="51.35" y="277.60" width="12.20" height="7.64" fill="#cbc6dd" stroke="none" stroke-width="1"/>
<rect x="63.25" y="277.60" width="12.20" height="7.64" fill="#c6c1da" stroke="none" stroke-width="1"/>
<rect x="15.65" y="284.94" width="12.20" height="7.64" fill="#fee7e4" stroke="none" stroke-width="1"/>
<rect x="27.55" y="284.94" width="12.20" height="7.64" fill="#fff8f7" stroke="none" stroke-width="1"/>
<rect x="39.45" y="284.94" width="12.20" height="7.64" fill="#b3adcd" stroke="none" stroke-width="1"/>
<rect x="51.35" y="284.94" width="12.20" height="7.64" fill="#c1bcd7" stroke="none" stroke-width="1"/>
<rect x="63.25" y="284.94" width="12.20" height="7.64" fill="#c1bcd7" stroke="none" stroke-width="1"/>
<rect x="15.65" y="292.28" width="12.20" height="7.64" fill="#feeeec" stroke="none" stroke-width="1"/>
<rect x="27.55" y="292.28" width="12.20" height="7.64" fill="#fee2de" stroke="none" stroke-width="1"/>
<rect x="39.45" y="292.28" width="12.20" height="7.64" fill="#a098c1" stroke="none" stroke-width="1"/>
<rect x="51.35" y="292.28" width="12.20" height="7.64" fill="#aaa2c7" stroke="none" stroke-width="1"/>
<rect x="63.25" y="292.28" width="12.20" height="7.64" fill="#d9d6e6" stroke="none" stroke-width="1"/>
<rect x="15.65" y="299.61" width="12.20" height="7.64" fill="#fcc6bd" stroke="none" stroke-width="1"/>
<rect x="27.55" y="299.61" width="12.20" height="7.64" fill="#fcc6bd" stroke="none" stroke-width="1"/>
<rect x="39.45" y="299.61" width="12.20" height="7.64" fill="#857faf" stroke="none" stroke-width="1"/>
<rect x="51.35" y="299.61" width="12.20" height="7.64" fill="#7872a6" stroke="none" stroke-width="1"/>
<rect x="63.25" y="299.61" width="12.20" height="7.64" fill="#aaa2c7" stroke="none" stroke-width="1"/>
<rect x="15.70" y="248.30" width="59.50" height="58.70" fill="none" stroke="#000" stroke-width="1.0"/>
<text x="45.45" y="241.00" font-size="13.5" text-anchor="middle" fill="#000">CM</text>
<text x="25.35" y="312.00" font-size="10.4" text-anchor="end" fill="#000" transform="rotate(-90 25.35 312.00)">MPP3</text>
<text x="37.25" y="312.00" font-size="10.4" text-anchor="end" fill="#000" transform="rotate(-90 37.25 312.00)">POR</text>
<text x="49.15" y="312.00" font-size="10.4" text-anchor="end" fill="#000" transform="rotate(-90 49.15 312.00)">PLCE1</text>
<text x="61.05" y="312.00" font-size="10.4" text-anchor="end" fill="#000" transform="rotate(-90 61.05 312.00)">PROM1</text>
<text x="72.95" y="312.00" font-size="10.4" text-anchor="end" fill="#000" transform="rotate(-90 72.95 312.00)">ANKRD33B</text>
<rect x="83.32" y="248.25" width="12.20" height="7.64" fill="#d9d6e6" stroke="none" stroke-width="1"/>
<rect x="95.22" y="248.25" width="12.20" height="7.64" fill="#e2e0ec" stroke="none" stroke-width="1"/>
<rect x="107.12" y="248.25" width="12.20" height="7.64" fill="#dedbe9" stroke="none" stroke-width="1"/>
<rect x="119.02" y="248.25" width="12.20" height="7.64" fill="#a59dc4" stroke="none" stroke-width="1"/>
<rect x="130.92" y="248.25" width="12.20" height="7.64" fill="#c1bcd7" stroke="none" stroke-width="1"/>
<rect x="83.32" y="255.59" width="12.20" height="7.64" fill="#aaa2c7" stroke="none" stroke-width="1"/>
<rect x="95.22" y="255.59" width="12.20" height="7.64" fill="#c6c1da" stroke="none" stroke-width="1"/>
<rect x="107.12" y="255.59" width="12.20" height="7.64" fill="#c6c1da" stroke="none" stroke-width="1"/>
<rect x="119.02" y="255.59" width="12.20" height="7.64" fill="#a098c1" stroke="none" stroke-width="1"/>
<rect x="130.92" y="255.59" width="12.20" height="7.64" fill="#aea7ca" stroke="none" stroke-width="1"/>
<rect x="83.32" y="262.93" width="12.20" height="7.64" fill="#e2e0ec" stroke="none" stroke-width="1"/>
<rect x="95.22" y="262.93" width="12.20" height="7.64" fill="#ffffff" stroke="none" stroke-width="1"/>
<rect x="107.12" y="262.93" width="12.20" height="7.64" fill="#e2e0ec" stroke="none" stroke-width="1"/>
<rect x="119.02" y="262.93" width="12.20" height="7.64" fill="#cbc6dd" stroke="none" stroke-width="1"/>
<rect x="130.92" y="262.93" width="12.20" height="7.64" fill="#d0cce0" stroke="none" stroke-width="1"/>
<rect x="83.32" y="270.26" width="12.20" height="7.64" fill="#b8b2d0" stroke="none" stroke-width="1"/>
<rect x="95.22" y="270.26" width="12.20" height="7.64" fill="#d0cce0" stroke="none" stroke-width="1"/>
<rect x="107.12" y="270.26" width="12.20" height="7.64" fill="#d0cce0" stroke="none" stroke-width="1"/>
<rect x="119.02" y="270.26" width="12.20" height="7.64" fill="#aea7ca" stroke="none" stroke-width="1"/>
<rect x="130.92" y="270.26" width="12.20" height="7.64" fill="#c6c1da" stroke="none" stroke-width="1"/>
<rect x="83.32" y="277.60" width="12.20" height="7.64" fill="#fef3f1" stroke="none" stroke-width="1"/>
<rect x="95.22" y="277.60" width="12.20" height="7.64" fill="#fef3f1" stroke="none" stroke-width="1"/>
<rect x="107.12" y="277.60" width="12.20" height="7.64" fill="#fef1ee" stroke="none" stroke-width="1"/>
<rect x="119.02" y="277.60" width="12.20" height="7.64" fill="#fdded8" stroke="none" stroke-width="1"/>
<rect x="130.92" y="277.60" width="12.20" height="7.64" fill="#feeae6" stroke="none" stroke-width="1"/>
<rect x="83.32" y="284.94" width="12.20" height="7.64" fill="#feece9" stroke="none" stroke-width="1"/>
<rect x="95.22" y="284.94" width="12.20" height="7.64" fill="#ffffff" stroke="none" stroke-width="1"/>
<rect x="107.12" y="284.94" width="12.20" height="7.64" fill="#fef1ee" stroke="none" stroke-width="1"/>
<rect x="119.02" y="284.94" width="12.20" height="7.64" fill="#fdd9d3" stroke="none" stroke-width="1"/>
<rect x="130.92" y="284.94" width="12.20" height="7.64" fill="#fdded8" stroke="none" stroke-width="1"/>
<rect x="83.32" y="292.28" width="12.20" height="7.64" fill="#fcd0c8" stroke="none" stroke-width="1"/>
<rect x="95.22" y="292.28" width="12.20" height="7.64" fill="#fdded8" stroke="none" stroke-width="1"/>
<rect x="107.12" y="292.28" width="12.20" height="7.64" fill="#fee2de" stroke="none" stroke-width="1"/>
<rect x="119.02" y="292.28" width="12.20" height="7.64" fill="#fccbc2" stroke="none" stroke-width="1"/>
<rect x="130.92" y="292.28" width="12.20" height="7.64" fill="#fdd9d3" stroke="none" stroke-width="1"/>
<rect x="83.32" y="299.61" width="12.20" height="7.64" fill="#fcbcb2" stroke="none" stroke-width="1"/>
<rect x="95.22" y="299.61" width="12.20" height="7.64" fill="#fdd4ce" stroke="none" stroke-width="1"/>
<rect x="107.12" y="299.61" width="12.20" height="7.64" fill="#fdd4ce" stroke="none" stroke-width="1"/>
<rect x="119.02" y="299.61" width="12.20" height="7.64" fill="#fbb3a7" stroke="none" stroke-width="1"/>
<rect x="130.92" y="299.61" width="12.20" height="7.64" fill="#fcd0c8" stroke="none" stroke-width="1"/>
<rect x="83.37" y="248.30" width="59.50" height="58.70" fill="none" stroke="#000" stroke-width="1.0"/>
<text x="113.12" y="241.00" font-size="13.5" text-anchor="middle" fill="#000">Endo</text>
<text x="93.02" y="312.00" font-size="10.4" text-anchor="end" fill="#000" transform="rotate(-90 93.02 312.00)">FKBP5</text>
<text x="104.92" y="312.00" font-size="10.4" text-anchor="end" fill="#000" transform="rotate(-90 104.92 312.00)">RPGR</text>
<text x="116.82" y="312.00" font-size="10.4" text-anchor="end" fill="#000" transform="rotate(-90 116.82 312.00)">SYN3</text>
<text x="128.72" y="312.00" font-size="10.4" text-anchor="end" fill="#000" transform="rotate(-90 128.72 312.00)">SLCO4A1</text>
<text x="140.62" y="312.00" font-size="10.4" text-anchor="end" fill="#000" transform="rotate(-90 140.62 312.00)">TINAGL1</text>
<rect x="150.99" y="248.25" width="12.20" height="7.64" fill="#fbb8ac" stroke="none" stroke-width="1"/>
<rect x="162.89" y="248.25" width="12.20" height="7.64" fill="#fcc6bd" stroke="none" stroke-width="1"/>
<rect x="174.79" y="248.25" width="12.20" height="7.64" fill="#b3adcd" stroke="none" stroke-width="1"/>
<rect x="186.69" y="248.25" width="12.20" height="7.64" fill="#a098c1" stroke="none" stroke-width="1"/>
<rect x="198.59" y="248.25" width="12.20" height="7.64" fill="#8c85b4" stroke="none" stroke-width="1"/>
<rect x="150.99" y="255.59" width="12.20" height="7.64" fill="#faa596" stroke="none" stroke-width="1"/>
<rect x="162.89" y="255.59" width="12.20" height="7.64" fill="#faaa9c" stroke="none" stroke-width="1"/>
<rect x="174.79" y="255.59" width="12.20" height="7.64" fill="#9992bd" stroke="none" stroke-width="1"/>
<rect x="186.69" y="255.59" width="12.20" height="7.64" fill="#6a669d" stroke="none" stroke-width="1"/>
<rect x="198.59" y="255.59" width="12.20" height="7.64" fill="#6a669d" stroke="none" stroke-width="1"/>
<rect x="150.99" y="262.93" width="12.20" height="7.64" fill="#fdded8" stroke="none" stroke-width="1"/>
<rect x="162.89" y="262.93" width="12.20" height="7.64" fill="#fdded8" stroke="none" stroke-width="1"/>
<rect x="174.79" y="262.93" width="12.20" height="7.64" fill="#e2e0ec" stroke="none" stroke-width="1"/>
<rect x="186.69" y="262.93" width="12.20" height="7.64" fill="#c6c1da" stroke="none" stroke-width="1"/>
<rect x="198.59" y="262.93" width="12.20" height="7.64" fill="#bcb7d4" stroke="none" stroke-width="1"/>
<rect x="150.99" y="270.26" width="12.20" height="7.64" fill="#fcc1b8" stroke="none" stroke-width="1"/>
<rect x="162.89" y="270.26" width="12.20" height="7.64" fill="#fcc6bd" stroke="none" stroke-width="1"/>
<rect x="174.79" y="270.26" width="12.20" height="7.64" fill="#a59dc4" stroke="none" stroke-width="1"/>
<rect x="186.69" y="270.26" width="12.20" height="7.64" fill="#a098c1" stroke="none" stroke-width="1"/>
<rect x="198.59" y="270.26" width="12.20" height="7.64" fill="#9992bd" stroke="none" stroke-width="1"/>
<rect x="150.99" y="277.60" width="12.20" height="7.64" fill="#c1bcd7" stroke="none" stroke-width="1"/>
<rect x="162.89" y="277.60" width="12.20" height="7.64" fill="#d0cce0" stroke="none" stroke-width="1"/>
<rect x="174.79" y="277.60" width="12.20" height="7.64" fill="#fdd9d3" stroke="none" stroke-width="1"/>
<rect x="186.69" y="277.60" width="12.20" height="7.64" fill="#fdd4ce" stroke="none" stroke-width="1"/>
<rect x="198.59" y="277.60" width="12.20" height="7.64" fill="#fcd0c8" stroke="none" stroke-width="1"/>
<rect x="150.99" y="284.94" width="12.20" height="7.64" fill="#d0cce0" stroke="none" stroke-width="1"/>
<rect x="162.89" y="284.94" width="12.20" height="7.64" fill="#cbc6dd" stroke="none" stroke-width="1"/>
<rect x="174.79" y="284.94" width="12.20" height="7.64" fill="#fee5e1" stroke="none" stroke-width="1"/>
<rect x="186.69" y="284.94" width="12.20" height="7.64" fill="#fdd4ce" stroke="none" stroke-width="1"/>
<rect x="198.59" y="284.94" width="12.20" height="7.64" fill="#fcd0c8" stroke="none" stroke-width="1"/>
<rect x="150.99" y="292.28" width="12.20" height="7.64" fill="#857faf" stroke="none" stroke-width="1"/>
<rect x="162.89" y="292.28" width="12.20" height="7.64" fill="#938bb8" stroke="none" stroke-width="1"/>
<rect x="174.79" y="292.28" width="12.20" height="7.64" fill="#fbb8ac" stroke="none" stroke-width="1"/>
<rect x="186.69" y="292.28" width="12.20" height="7.64" fill="#faa799" stroke="none" stroke-width="1"/>
<rect x="198.59" y="292.28" width="12.20" height="7.64" fill="#faa799" stroke="none" stroke-width="1"/>
<rect x="150.99" y="299.61" width="12.20" height="7.64" fill="#645f99" stroke="none" stroke-width="1"/>
<rect x="162.89" y="299.61" width="12.20" height="7.64" fill="#7872a6" stroke="none" stroke-width="1"/>
<rect x="174.79" y="299.61" width="12.20" height="7.64" fill="#faa294" stroke="none" stroke-width="1"/>
<rect x="186.69" y="299.61" width="12.20" height="7.64" fill="#faa294" stroke="none" stroke-width="1"/>
<rect x="198.59" y="299.61" width="12.20" height="7.64" fill="#f79689" stroke="none" stroke-width="1"/>
<rect x="151.04" y="248.30" width="59.50" height="58.70" fill="none" stroke="#000" stroke-width="1.0"/>
<text x="180.79" y="241.00" font-size="13.5" text-anchor="middle" fill="#000">Fib</text>
<text x="160.69" y="312.00" font-size="10.4" text-anchor="end" fill="#000" transform="rotate(-90 160.69 312.00)">NRXN3</text>
<text x="172.59" y="312.00" font-size="10.4" text-anchor="end" fill="#000" transform="rotate(-90 172.59 312.00)">MEOX2</text>
<text x="184.49" y="312.00" font-size="10.4" text-anchor="end" fill="#000" transform="rotate(-90 184.49 312.00)">AOX1</text>
<text x="196.39" y="312.00" font-size="10.4" text-anchor="end" fill="#000" transform="rotate(-90 196.39 312.00)">MGST1</text>
<text x="208.29" y="312.00" font-size="10.4" text-anchor="end" fill="#000" transform="rotate(-90 208.29 312.00)">EDNRB</text>
<rect x="218.66" y="248.25" width="12.20" height="7.64" fill="#e7e5f0" stroke="none" stroke-width="1"/>
<rect x="230.56" y="248.25" width="12.20" height="7.64" fill="#ffffff" stroke="none" stroke-width="1"/>
<rect x="242.46" y="248.25" width="12.20" height="7.64" fill="#fffdfc" stroke="none" stroke-width="1"/>
<rect x="254.36" y="248.25" width="12.20" height="7.64" fill="#ffffff" stroke="none" stroke-width="1"/>
<rect x="266.26" y="248.25" width="12.20" height="7.64" fill="#feece9" stroke="none" stroke-width="1"/>
<rect x="218.66" y="255.59" width="12.20" height="7.64" fill="#c1bcd7" stroke="none" stroke-width="1"/>
<rect x="230.56" y="255.59" width="12.20" height="7.64" fill="#d9d6e6" stroke="none" stroke-width="1"/>
<rect x="242.46" y="255.59" width="12.20" height="7.64" fill="#dedbe9" stroke="none" stroke-width="1"/>
<rect x="254.36" y="255.59" width="12.20" height="7.64" fill="#d9d6e6" stroke="none" stroke-width="1"/>
<rect x="266.26" y="255.59" width="12.20" height="7.64" fill="#fee7e4" stroke="none" stroke-width="1"/>
<rect x="218.66" y="262.93" width="12.20" height="7.64" fill="#e2e0ec" stroke="none" stroke-width="1"/>
<rect x="230.56" y="262.93" width="12.20" height="7.64" fill="#f6f5f9" stroke="none" stroke-width="1"/>
<rect x="242.46" y="262.93" width="12.20" height="7.64" fill="#fafafc" stroke="none" stroke-width="1"/>
<rect x="254.36" y="262.93" width="12.20" height="7.64" fill="#f6f5f9" stroke="none" stroke-width="1"/>
<rect x="266.26" y="262.93" width="12.20" height="7.64" fill="#fffafa" stroke="none" stroke-width="1"/>
<rect x="218.66" y="270.26" width="12.20" height="7.64" fill="#c6c1da" stroke="none" stroke-width="1"/>
<rect x="230.56" y="270.26" width="12.20" height="7.64" fill="#d9d6e6" stroke="none" stroke-width="1"/>
<rect x="242.46" y="270.26" width="12.20" height="7.64" fill="#d9d6e6" stroke="none" stroke-width="1"/>
<rect x="254.36" y="270.26" width="12.20" height="7.64" fill="#dedbe9" stroke="none" stroke-width="1"/>
<rect x="266.26" y="270.26" width="12.20" height="7.64" fill="#feeeec" stroke="none" stroke-width="1"/>
<rect x="218.66" y="277.60" width="12.20" height="7.64" fill="#fffafa" stroke="none" stroke-width="1"/>
<rect x="230.56" y="277.60" width="12.20" height="7.64" fill="#ffffff" stroke="none" stroke-width="1"/>
<rect x="242.46" y="277.60" width="12.20" height="7.64" fill="#fafafc" stroke="none" stroke-width="1"/>
<rect x="254.36" y="277.60" width="12.20" height="7.64" fill="#ffffff" stroke="none" stroke-width="1"/>
<rect x="266.26" y="277.60" width="12.20" height="7.64" fill="#eceaf3" stroke="none" stroke-width="1"/>
<rect x="218.66" y="284.94" width="12.20" height="7.64" fill="#feeae6" stroke="none" stroke-width="1"/>
<rect x="230.56" y="284.94" width="12.20" height="7.64" fill="#fffafa" stroke="none" stroke-width="1"/>
<rect x="242.46" y="284.94" width="12.20" height="7.64" fill="#fffdfc" stroke="none" stroke-width="1"/>
<rect x="254.36" y="284.94" width="12.20" height="7.64" fill="#fffdfc" stroke="none" stroke-width="1"/>
<rect x="266.26" y="284.94" width="12.20" height="7.64" fill="#f6f5f9" stroke="none" stroke-width="1"/>
<rect x="218.66" y="292.28" width="12.20" height="7.64" fill="#fdded8" stroke="none" stroke-width="1"/>
<rect x="230.56" y="292.28" width="12.20" height="7.64" fill="#feece9" stroke="none" stroke-width="1"/>
<rect x="242.46" y="292.28" width="12.20" height="7.64" fill="#feeeec" stroke="none" stroke-width="1"/>
<rect x="254.36" y="292.28" width="12.20" height="7.64" fill="#feeeec" stroke="none" stroke-width="1"/>
<rect x="266.26" y="292.28" width="12.20" height="7.64" fill="#d9d6e6" stroke="none" stroke-width="1"/>
<rect x="218.66" y="299.61" width="12.20" height="7.64" fill="#fcd0c8" stroke="none" stroke-width="1"/>
<rect x="230.56" y="299.61" width="12.20" height="7.64" fill="#fdded8" stroke="none" stroke-width="1"/>
<rect x="242.46" y="299.61" width="12.20" height="7.64" fill="#fdded8" stroke="none" stroke-width="1"/>
<rect x="254.36" y="299.61" width="12.20" height="7.64" fill="#fee2de" stroke="none" stroke-width="1"/>
<rect x="266.26" y="299.61" width="12.20" height="7.64" fill="#c6c1da" stroke="none" stroke-width="1"/>
<rect x="218.71" y="248.30" width="59.50" height="58.70" fill="none" stroke="#000" stroke-width="1.0"/>
<text x="248.46" y="241.00" font-size="13.5" text-anchor="middle" fill="#000">Lymphoid</text>
<text x="228.36" y="312.00" font-size="10.4" text-anchor="end" fill="#000" transform="rotate(-90 228.36 312.00)">FKBP5</text>
<text x="240.26" y="312.00" font-size="10.4" text-anchor="end" fill="#000" transform="rotate(-90 240.26 312.00)">SYTL3</text>
<text x="252.16" y="312.00" font-size="10.4" text-anchor="end" fill="#000" transform="rotate(-90 252.16 312.00)">CNOT6L</text>
<text x="264.06" y="312.00" font-size="10.4" text-anchor="end" fill="#000" transform="rotate(-90 264.06 312.00)">PARP8</text>
<text x="275.96" y="312.00" font-size="10.4" text-anchor="end" fill="#000" transform="rotate(-90 275.96 312.00)">ITGAL</text>
<rect x="286.33" y="248.25" width="12.20" height="7.64" fill="#8c85b4" stroke="none" stroke-width="1"/>
<rect x="298.23" y="248.25" width="12.20" height="7.64" fill="#d4d1e3" stroke="none" stroke-width="1"/>
<rect x="310.13" y="248.25" width="12.20" height="7.64" fill="#bcb7d4" stroke="none" stroke-width="1"/>
<rect x="322.03" y="248.25" width="12.20" height="7.64" fill="#c6c1da" stroke="none" stroke-width="1"/>
<rect x="333.93" y="248.25" width="12.20" height="7.64" fill="#feeeec" stroke="none" stroke-width="1"/>
<rect x="286.33" y="255.59" width="12.20" height="7.64" fill="#1a1a68" stroke="none" stroke-width="1"/>
<rect x="298.23" y="255.59" width="12.20" height="7.64" fill="#a59dc4" stroke="none" stroke-width="1"/>
<rect x="310.13" y="255.59" width="12.20" height="7.64" fill="#857faf" stroke="none" stroke-width="1"/>
<rect x="322.03" y="255.59" width="12.20" height="7.64" fill="#5d5994" stroke="none" stroke-width="1"/>
<rect x="333.93" y="255.59" width="12.20" height="7.64" fill="#fcc6bd" stroke="none" stroke-width="1"/>
<rect x="286.33" y="262.93" width="12.20" height="7.64" fill="#aea7ca" stroke="none" stroke-width="1"/>
<rect x="298.23" y="262.93" width="12.20" height="7.64" fill="#e7e5f0" stroke="none" stroke-width="1"/>
<rect x="310.13" y="262.93" width="12.20" height="7.64" fill="#d0cce0" stroke="none" stroke-width="1"/>
<rect x="322.03" y="262.93" width="12.20" height="7.64" fill="#e7e5f0" stroke="none" stroke-width="1"/>
<rect x="333.93" y="262.93" width="12.20" height="7.64" fill="#fef1ee" stroke="none" stroke-width="1"/>
<rect x="286.33" y="270.26" width="12.20" height="7.64" fill="#3c3a7e" stroke="none" stroke-width="1"/>
<rect x="298.23" y="270.26" width="12.20" height="7.64" fill="#bcb7d4" stroke="none" stroke-width="1"/>
<rect x="310.13" y="270.26" width="12.20" height="7.64" fill="#a098c1" stroke="none" stroke-width="1"/>
<rect x="322.03" y="270.26" width="12.20" height="7.64" fill="#a59dc4" stroke="none" stroke-width="1"/>
<rect x="333.93" y="270.26" width="12.20" height="7.64" fill="#fdd4ce" stroke="none" stroke-width="1"/>
<rect x="286.33" y="277.60" width="12.20" height="7.64" fill="#fdded8" stroke="none" stroke-width="1"/>
<rect x="298.23" y="277.60" width="12.20" height="7.64" fill="#fef1ee" stroke="none" stroke-width="1"/>
<rect x="310.13" y="277.60" width="12.20" height="7.64" fill="#feece9" stroke="none" stroke-width="1"/>
<rect x="322.03" y="277.60" width="12.20" height="7.64" fill="#feeeec" stroke="none" stroke-width="1"/>
<rect x="333.93" y="277.60" width="12.20" height="7.64" fill="#eceaf3" stroke="none" stroke-width="1"/>
<rect x="286.33" y="284.94" width="12.20" height="7.64" fill="#fcd0c8" stroke="none" stroke-width="1"/>
<rect x="298.23" y="284.94" width="12.20" height="7.64" fill="#feece9" stroke="none" stroke-width="1"/>
<rect x="310.13" y="284.94" width="12.20" height="7.64" fill="#fde0db" stroke="none" stroke-width="1"/>
<rect x="322.03" y="284.94" width="12.20" height="7.64" fill="#feece9" stroke="none" stroke-width="1"/>
<rect x="333.93" y="284.94" width="12.20" height="7.64" fill="#e7e5f0" stroke="none" stroke-width="1"/>
<rect x="286.33" y="292.28" width="12.20" height="7.64" fill="#f69386" stroke="none" stroke-width="1"/>
<rect x="298.23" y="292.28" width="12.20" height="7.64" fill="#fcd0c8" stroke="none" stroke-width="1"/>
<rect x="310.13" y="292.28" width="12.20" height="7.64" fill="#fcc6bd" stroke="none" stroke-width="1"/>
<rect x="322.03" y="292.28" width="12.20" height="7.64" fill="#fbb8ac" stroke="none" stroke-width="1"/>
<rect x="333.93" y="292.28" width="12.20" height="7.64" fill="#aea7ca" stroke="none" stroke-width="1"/>
<rect x="286.33" y="299.61" width="12.20" height="7.64" fill="#da2b2b" stroke="none" stroke-width="1"/>
<rect x="298.23" y="299.61" width="12.20" height="7.64" fill="#fcc1b8" stroke="none" stroke-width="1"/>
<rect x="310.13" y="299.61" width="12.20" height="7.64" fill="#faa596" stroke="none" stroke-width="1"/>
<rect x="322.03" y="299.61" width="12.20" height="7.64" fill="#faaa9c" stroke="none" stroke-width="1"/>
<rect x="333.93" y="299.61" width="12.20" height="7.64" fill="#938bb8" stroke="none" stroke-width="1"/>
<rect x="286.38" y="248.30" width="59.50" height="58.70" fill="none" stroke="#000" stroke-width="1.0"/>
<text x="316.13" y="241.00" font-size="13.5" text-anchor="middle" fill="#000">Myeloid</text>
<text x="296.03" y="312.00" font-size="10.4" text-anchor="end" fill="#000" transform="rotate(-90 296.03 312.00)">THBS1</text>
<text x="307.93" y="312.00" font-size="10.4" text-anchor="end" fill="#000" transform="rotate(-90 307.93 312.00)">TBC1D16</text>
<text x="319.83" y="312.00" font-size="10.4" text-anchor="end" fill="#000" transform="rotate(-90 319.83 312.00)">SH3PXD2B</text>
<text x="331.73" y="312.00" font-size="10.4" text-anchor="end" fill="#000" transform="rotate(-90 331.73 312.00)">SLC11A1</text>
<text x="343.63" y="312.00" font-size="10.4" text-anchor="end" fill="#000" transform="rotate(-90 343.63 312.00)">AFF3</text>
<rect x="354.00" y="248.25" width="12.20" height="7.64" fill="#d0cce0" stroke="none" stroke-width="1"/>
<rect x="365.90" y="248.25" width="12.20" height="7.64" fill="#c6c1da" stroke="none" stroke-width="1"/>
<rect x="377.80" y="248.25" width="12.20" height="7.64" fill="#b3adcd" stroke="none" stroke-width="1"/>
<rect x="389.70" y="248.25" width="12.20" height="7.64" fill="#8c85b4" stroke="none" stroke-width="1"/>
<rect x="401.60" y="248.25" width="12.20" height="7.64" fill="#feece9" stroke="none" stroke-width="1"/>
<rect x="354.00" y="255.59" width="12.20" height="7.64" fill="#938bb8" stroke="none" stroke-width="1"/>
<rect x="365.90" y="255.59" width="12.20" height="7.64" fill="#857faf" stroke="none" stroke-width="1"/>
<rect x="377.80" y="255.59" width="12.20" height="7.64" fill="#b3adcd" stroke="none" stroke-width="1"/>
<rect x="389.70" y="255.59" width="12.20" height="7.64" fill="#a098c1" stroke="none" stroke-width="1"/>
<rect x="401.60" y="255.59" width="12.20" height="7.64" fill="#fdd4ce" stroke="none" stroke-width="1"/>
<rect x="354.00" y="262.93" width="12.20" height="7.64" fill="#d9d6e6" stroke="none" stroke-width="1"/>
<rect x="365.90" y="262.93" width="12.20" height="7.64" fill="#f1f0f6" stroke="none" stroke-width="1"/>
<rect x="377.80" y="262.93" width="12.20" height="7.64" fill="#d9d6e6" stroke="none" stroke-width="1"/>
<rect x="389.70" y="262.93" width="12.20" height="7.64" fill="#bcb7d4" stroke="none" stroke-width="1"/>
<rect x="401.60" y="262.93" width="12.20" height="7.64" fill="#fee7e4" stroke="none" stroke-width="1"/>
<rect x="354.00" y="270.26" width="12.20" height="7.64" fill="#c1bcd7" stroke="none" stroke-width="1"/>
<rect x="365.90" y="270.26" width="12.20" height="7.64" fill="#c6c1da" stroke="none" stroke-width="1"/>
<rect x="377.80" y="270.26" width="12.20" height="7.64" fill="#c1bcd7" stroke="none" stroke-width="1"/>
<rect x="389.70" y="270.26" width="12.20" height="7.64" fill="#aea7ca" stroke="none" stroke-width="1"/>
<rect x="401.60" y="270.26" width="12.20" height="7.64" fill="#fdd9d3" stroke="none" stroke-width="1"/>
<rect x="354.00" y="277.60" width="12.20" height="7.64" fill="#feece9" stroke="none" stroke-width="1"/>
<rect x="365.90" y="277.60" width="12.20" height="7.64" fill="#feeae6" stroke="none" stroke-width="1"/>
<rect x="377.80" y="277.60" width="12.20" height="7.64" fill="#fee2de" stroke="none" stroke-width="1"/>
<rect x="389.70" y="277.60" width="12.20" height="7.64" fill="#fdd4ce" stroke="none" stroke-width="1"/>
<rect x="401.60" y="277.60" width="12.20" height="7.64" fill="#f1f0f6" stroke="none" stroke-width="1"/>
<rect x="354.00" y="284.94" width="12.20" height="7.64" fill="#feeae6" stroke="none" stroke-width="1"/>
<rect x="365.90" y="284.94" width="12.20" height="7.64" fill="#fef6f4" stroke="none" stroke-width="1"/>
<rect x="377.80" y="284.94" width="12.20" height="7.64" fill="#fee2de" stroke="none" stroke-width="1"/>
<rect x="389.70" y="284.94" width="12.20" height="7.64" fill="#fdd4ce" stroke="none" stroke-width="1"/>
<rect x="401.60" y="284.94" width="12.20" height="7.64" fill="#e2e0ec" stroke="none" stroke-width="1"/>
<rect x="354.00" y="292.28" width="12.20" height="7.64" fill="#fcc6bd" stroke="none" stroke-width="1"/>
<rect x="365.90" y="292.28" width="12.20" height="7.64" fill="#fcc6bd" stroke="none" stroke-width="1"/>
<rect x="377.80" y="292.28" width="12.20" height="7.64" fill="#fdd4ce" stroke="none" stroke-width="1"/>
<rect x="389.70" y="292.28" width="12.20" height="7.64" fill="#fcd0c8" stroke="none" stroke-width="1"/>
<rect x="401.60" y="292.28" width="12.20" height="7.64" fill="#bcb7d4" stroke="none" stroke-width="1"/>
<rect x="354.00" y="299.61" width="12.20" height="7.64" fill="#fcc1b8" stroke="none" stroke-width="1"/>
<rect x="365.90" y="299.61" width="12.20" height="7.64" fill="#fcc6bd" stroke="none" stroke-width="1"/>
<rect x="377.80" y="299.61" width="12.20" height="7.64" fill="#fcd0c8" stroke="none" stroke-width="1"/>
<rect x="389.70" y="299.61" width="12.20" height="7.64" fill="#fcbcb2" stroke="none" stroke-width="1"/>
<rect x="401.60" y="299.61" width="12.20" height="7.64" fill="#a59dc4" stroke="none" stroke-width="1"/>
<rect x="354.05" y="248.30" width="59.50" height="58.70" fill="none" stroke="#000" stroke-width="1.0"/>
<text x="383.80" y="241.00" font-size="13.5" text-anchor="middle" fill="#000">PC</text>
<text x="363.70" y="312.00" font-size="10.4" text-anchor="end" fill="#000" transform="rotate(-90 363.70 312.00)">SYN3</text>
<text x="375.60" y="312.00" font-size="10.4" text-anchor="end" fill="#000" transform="rotate(-90 375.60 312.00)">DENND3</text>
<text x="387.50" y="312.00" font-size="10.4" text-anchor="end" fill="#000" transform="rotate(-90 387.50 312.00)">RGL3</text>
<text x="399.40" y="312.00" font-size="10.4" text-anchor="end" fill="#000" transform="rotate(-90 399.40 312.00)">ADAMTS9</text>
<text x="411.30" y="312.00" font-size="10.4" text-anchor="end" fill="#000" transform="rotate(-90 411.30 312.00)">ITIH5</text>
<rect x="421.67" y="248.25" width="12.20" height="7.64" fill="#d9d6e6" stroke="none" stroke-width="1"/>
<rect x="433.57" y="248.25" width="12.20" height="7.64" fill="#d9d6e6" stroke="none" stroke-width="1"/>
<rect x="445.47" y="248.25" width="12.20" height="7.64" fill="#d0cce0" stroke="none" stroke-width="1"/>
<rect x="457.37" y="248.25" width="12.20" height="7.64" fill="#c6c1da" stroke="none" stroke-width="1"/>
<rect x="469.27" y="248.25" width="12.20" height="7.64" fill="#938bb8" stroke="none" stroke-width="1"/>
<rect x="421.67" y="255.59" width="12.20" height="7.64" fill="#dedbe9" stroke="none" stroke-width="1"/>
<rect x="433.57" y="255.59" width="12.20" height="7.64" fill="#c6c1da" stroke="none" stroke-width="1"/>
<rect x="445.47" y="255.59" width="12.20" height="7.64" fill="#eceaf3" stroke="none" stroke-width="1"/>
<rect x="457.37" y="255.59" width="12.20" height="7.64" fill="#d4d1e3" stroke="none" stroke-width="1"/>
<rect x="469.27" y="255.59" width="12.20" height="7.64" fill="#a098c1" stroke="none" stroke-width="1"/>
<rect x="421.67" y="262.93" width="12.20" height="7.64" fill="#f6f5f9" stroke="none" stroke-width="1"/>
<rect x="433.57" y="262.93" width="12.20" height="7.64" fill="#eceaf3" stroke="none" stroke-width="1"/>
<rect x="445.47" y="262.93" width="12.20" height="7.64" fill="#eceaf3" stroke="none" stroke-width="1"/>
<rect x="457.37" y="262.93" width="12.20" height="7.64" fill="#e2e0ec" stroke="none" stroke-width="1"/>
<rect x="469.27" y="262.93" width="12.20" height="7.64" fill="#c6c1da" stroke="none" stroke-width="1"/>
<rect x="421.67" y="270.26" width="12.20" height="7.64" fill="#d0cce0" stroke="none" stroke-width="1"/>
<rect x="433.57" y="270.26" width="12.20" height="7.64" fill="#d4d1e3" stroke="none" stroke-width="1"/>
<rect x="445.47" y="270.26" width="12.20" height="7.64" fill="#cbc6dd" stroke="none" stroke-width="1"/>
<rect x="457.37" y="270.26" width="12.20" height="7.64" fill="#c6c1da" stroke="none" stroke-width="1"/>
<rect x="469.27" y="270.26" width="12.20" height="7.64" fill="#aaa2c7" stroke="none" stroke-width="1"/>
<rect x="421.67" y="277.60" width="12.20" height="7.64" fill="#fef3f1" stroke="none" stroke-width="1"/>
<rect x="433.57" y="277.60" width="12.20" height="7.64" fill="#fef1ee" stroke="none" stroke-width="1"/>
<rect x="445.47" y="277.60" width="12.20" height="7.64" fill="#feeeec" stroke="none" stroke-width="1"/>
<rect x="457.37" y="277.60" width="12.20" height="7.64" fill="#feece9" stroke="none" stroke-width="1"/>
<rect x="469.27" y="277.60" width="12.20" height="7.64" fill="#fdd9d3" stroke="none" stroke-width="1"/>
<rect x="421.67" y="284.94" width="12.20" height="7.64" fill="#fff8f7" stroke="none" stroke-width="1"/>
<rect x="433.57" y="284.94" width="12.20" height="7.64" fill="#fef6f4" stroke="none" stroke-width="1"/>
<rect x="445.47" y="284.94" width="12.20" height="7.64" fill="#fef1ee" stroke="none" stroke-width="1"/>
<rect x="457.37" y="284.94" width="12.20" height="7.64" fill="#feeeec" stroke="none" stroke-width="1"/>
<rect x="469.27" y="284.94" width="12.20" height="7.64" fill="#fdd9d3" stroke="none" stroke-width="1"/>
<rect x="421.67" y="292.28" width="12.20" height="7.64" fill="#feeae6" stroke="none" stroke-width="1"/>
<rect x="433.57" y="292.28" width="12.20" height="7.64" fill="#fee5e1" stroke="none" stroke-width="1"/>
<rect x="445.47" y="292.28" width="12.20" height="7.64" fill="#fef1ee" stroke="none" stroke-width="1"/>
<rect x="457.37" y="292.28" width="12.20" height="7.64" fill="#fee5e1" stroke="none" stroke-width="1"/>
<rect x="469.27" y="292.28" width="12.20" height="7.64" fill="#fdd4ce" stroke="none" stroke-width="1"/>
<rect x="421.67" y="299.61" width="12.20" height="7.64" fill="#fddbd6" stroke="none" stroke-width="1"/>
<rect x="433.57" y="299.61" width="12.20" height="7.64" fill="#fdd7d0" stroke="none" stroke-width="1"/>
<rect x="445.47" y="299.61" width="12.20" height="7.64" fill="#fcd0c8" stroke="none" stroke-width="1"/>
<rect x="457.37" y="299.61" width="12.20" height="7.64" fill="#fcc6bd" stroke="none" stroke-width="1"/>
<rect x="469.27" y="299.61" width="12.20" height="7.64" fill="#fbb3a7" stroke="none" stroke-width="1"/>
<rect x="421.72" y="248.30" width="59.50" height="58.70" fill="none" stroke="#000" stroke-width="1.0"/>
<text x="451.47" y="241.00" font-size="13.5" text-anchor="middle" fill="#000">vSMCs</text>
<text x="431.37" y="312.00" font-size="10.4" text-anchor="end" fill="#000" transform="rotate(-90 431.37 312.00)">HIPK2</text>
<text x="443.27" y="312.00" font-size="10.4" text-anchor="end" fill="#000" transform="rotate(-90 443.27 312.00)">BTBD9</text>
<text x="455.17" y="312.00" font-size="10.4" text-anchor="end" fill="#000" transform="rotate(-90 455.17 312.00)">COL4A1</text>
<text x="467.07" y="312.00" font-size="10.4" text-anchor="end" fill="#000" transform="rotate(-90 467.07 312.00)">PDE10A</text>
<text x="478.97" y="312.00" font-size="10.4" text-anchor="end" fill="#000" transform="rotate(-90 478.97 312.00)">ADAMTS9</text>
<rect x="488.35" y="248.25" width="12.10" height="7.44" fill="#000" stroke="none" stroke-width="1"/>
<rect x="488.35" y="255.59" width="12.10" height="7.44" fill="#000" stroke="none" stroke-width="1"/>
<rect x="488.35" y="262.93" width="12.10" height="7.44" fill="#000" stroke="none" stroke-width="1"/>
<rect x="488.35" y="270.26" width="12.10" height="7.44" fill="#000" stroke="none" stroke-width="1"/>
<rect x="488.35" y="277.60" width="12.10" height="7.44" fill="#aaaaaa" stroke="none" stroke-width="1"/>
<rect x="488.35" y="284.94" width="12.10" height="7.44" fill="#aaaaaa" stroke="none" stroke-width="1"/>
<rect x="488.35" y="292.28" width="12.10" height="7.44" fill="#aaaaaa" stroke="none" stroke-width="1"/>
<rect x="488.35" y="299.61" width="12.10" height="7.44" fill="#aaaaaa" stroke="none" stroke-width="1"/>
<rect x="500.35" y="248.25" width="12.10" height="7.44" fill="#ddd163" stroke="none" stroke-width="1"/>
<rect x="500.35" y="255.59" width="12.10" height="7.44" fill="#9d3a6b" stroke="none" stroke-width="1"/>
<rect x="500.35" y="262.93" width="12.10" height="7.44" fill="#ec8662" stroke="none" stroke-width="1"/>
<rect x="500.35" y="270.26" width="12.10" height="7.44" fill="#5fb0ff" stroke="none" stroke-width="1"/>
<rect x="500.35" y="277.60" width="12.10" height="7.44" fill="#ddd163" stroke="none" stroke-width="1"/>
<rect x="500.35" y="284.94" width="12.10" height="7.44" fill="#ec8662" stroke="none" stroke-width="1"/>
<rect x="500.35" y="292.28" width="12.10" height="7.44" fill="#9d3a6b" stroke="none" stroke-width="1"/>
<rect x="500.35" y="299.61" width="12.10" height="7.44" fill="#5fb0ff" stroke="none" stroke-width="1"/>
<rect x="488.40" y="248.30" width="24.00" height="58.70" fill="none" stroke="#000" stroke-width="1.0"/>
<text x="498.10" y="312.00" font-size="10.4" text-anchor="end" fill="#000" transform="rotate(-90 498.10 312.00)">heart_failure</text>
<text x="510.10" y="312.00" font-size="10.4" text-anchor="end" fill="#000" transform="rotate(-90 510.10 312.00)">study</text>
<text x="520.60" y="246.00" font-size="9.2" text-anchor="start" font-weight="bold" fill="#000">norm_expr</text>
<defs><linearGradient id="gnorm" x1="0" x2="0" y1="0" y2="1"><stop offset="0" stop-color="#d61e20"/><stop offset="0.04" stop-color="#d61e20"/><stop offset="0.19" stop-color="#dc3a34"/><stop offset="0.348" stop-color="#f59a8c"/><stop offset="0.658" stop-color="#ffffff"/><stop offset="0.82" stop-color="#968cba"/><stop offset="0.968" stop-color="#1a1a68"/><stop offset="1" stop-color="#1a1a68"/></linearGradient></defs>
<rect x="520.00" y="251.40" width="11.00" height="55.10" fill="url(#gnorm)" stroke="none" stroke-width="1"/>
<line x1="520.00" y1="253.50" x2="522.20" y2="253.50" stroke="#fff" stroke-width="0.6"/>
<line x1="528.80" y1="253.50" x2="531.00" y2="253.50" stroke="#fff" stroke-width="0.6"/>
<text x="533.60" y="256.40" font-size="8" text-anchor="start" fill="#000">4</text>
<line x1="520.00" y1="270.50" x2="522.20" y2="270.50" stroke="#fff" stroke-width="0.6"/>
<line x1="528.80" y1="270.50" x2="531.00" y2="270.50" stroke="#fff" stroke-width="0.6"/>
<text x="533.60" y="273.40" font-size="8" text-anchor="start" fill="#000">2</text>
<line x1="520.00" y1="287.60" x2="522.20" y2="287.60" stroke="#fff" stroke-width="0.6"/>
<line x1="528.80" y1="287.60" x2="531.00" y2="287.60" stroke="#fff" stroke-width="0.6"/>
<text x="533.60" y="290.50" font-size="8" text-anchor="start" fill="#000">0</text>
<line x1="520.00" y1="304.80" x2="522.20" y2="304.80" stroke="#fff" stroke-width="0.6"/>
<line x1="528.80" y1="304.80" x2="531.00" y2="304.80" stroke="#fff" stroke-width="0.6"/>
<text x="533.60" y="307.70" font-size="8" text-anchor="start" fill="#000">−2</text>
<text x="578.20" y="246.00" font-size="9.2" text-anchor="start" font-weight="bold" fill="#000">anns</text>
<rect x="578.50" y="252.30" width="8.70" height="8.70" fill="#000" stroke="none" stroke-width="1"/>
<text x="591.20" y="259.80" font-size="9" text-anchor="start" fill="#000">HF</text>
<rect x="578.50" y="262.66" width="8.70" height="8.70" fill="#aaaaaa" stroke="none" stroke-width="1"/>
<text x="591.20" y="270.16" font-size="9" text-anchor="start" fill="#000">NF</text>
<rect x="578.50" y="273.02" width="8.70" height="8.70" fill="#5fb0ff" stroke="none" stroke-width="1"/>
<text x="591.20" y="280.52" font-size="9" text-anchor="start" fill="#000">Chaffin2022_DCM</text>
<rect x="578.50" y="283.38" width="8.70" height="8.70" fill="#ddd163" stroke="none" stroke-width="1"/>
<text x="591.20" y="290.88" font-size="9" text-anchor="start" fill="#000">Koenig2022_DCM</text>
<rect x="578.50" y="293.74" width="8.70" height="8.70" fill="#ec8662" stroke="none" stroke-width="1"/>
<text x="591.20" y="301.24" font-size="9" text-anchor="start" fill="#000">LVReichart2022_DCM</text>
<rect x="578.50" y="304.10" width="8.70" height="8.70" fill="#9d3a6b" stroke="none" stroke-width="1"/>
<text x="591.20" y="311.60" font-size="9" text-anchor="start" fill="#000">Simonson2023_ICM</text>
</g>
<g id="panelD">
<text x="5.50" y="384.40" font-size="20" text-anchor="start" fill="#000">D</text>
<rect x="59.70" y="396.30" width="243.80" height="221.90" fill="#fff" stroke="#7f7f7f" stroke-width="0.9"/>
<line x1="59.70" y1="520.50" x2="303.50" y2="520.50" stroke="#222" stroke-width="0.9" stroke-dasharray="3.2,2.6"/>
<line x1="181.50" y1="396.30" x2="181.50" y2="618.20" stroke="#222" stroke-width="0.9" stroke-dasharray="3.2,2.6"/>
<text x="177.40" y="391.60" font-size="12.6" text-anchor="middle" font-weight="bold" fill="#000">Multicellular functions</text>
<line x1="57.30" y1="432.15" x2="59.70" y2="432.15" stroke="#333" stroke-width="0.8"/>
<text x="55.90" y="435.35" font-size="8.8" text-anchor="end" fill="#4d4d4d">0.50</text>
<line x1="57.30" y1="476.32" x2="59.70" y2="476.32" stroke="#333" stroke-width="0.8"/>
<text x="55.90" y="479.52" font-size="8.8" text-anchor="end" fill="#4d4d4d">0.25</text>
<line x1="57.30" y1="520.50" x2="59.70" y2="520.50" stroke="#333" stroke-width="0.8"/>
<text x="55.90" y="523.70" font-size="8.8" text-anchor="end" fill="#4d4d4d">0.00</text>
<line x1="57.30" y1="564.67" x2="59.70" y2="564.67" stroke="#333" stroke-width="0.8"/>
<text x="55.90" y="567.88" font-size="8.8" text-anchor="end" fill="#4d4d4d">−0.25</text>
<line x1="57.30" y1="608.85" x2="59.70" y2="608.85" stroke="#333" stroke-width="0.8"/>
<text x="55.90" y="612.05" font-size="8.8" text-anchor="end" fill="#4d4d4d">−0.50</text>
<line x1="71.34" y1="618.20" x2="71.34" y2="620.60" stroke="#333" stroke-width="0.8"/>
<text x="71.34" y="628.80" font-size="8.8" text-anchor="middle" fill="#4d4d4d">−0.6</text>
<line x1="126.42" y1="618.20" x2="126.42" y2="620.60" stroke="#333" stroke-width="0.8"/>
<text x="126.42" y="628.80" font-size="8.8" text-anchor="middle" fill="#4d4d4d">−0.3</text>
<line x1="181.50" y1="618.20" x2="181.50" y2="620.60" stroke="#333" stroke-width="0.8"/>
<text x="181.50" y="628.80" font-size="8.8" text-anchor="middle" fill="#4d4d4d">0.0</text>
<line x1="236.58" y1="618.20" x2="236.58" y2="620.60" stroke="#333" stroke-width="0.8"/>
<text x="236.58" y="628.80" font-size="8.8" text-anchor="middle" fill="#4d4d4d">0.3</text>
<line x1="291.66" y1="618.20" x2="291.66" y2="620.60" stroke="#333" stroke-width="0.8"/>
<text x="291.66" y="628.80" font-size="8.8" text-anchor="middle" fill="#4d4d4d">0.6</text>
<line x1="181.50" y1="520.50" x2="283.70" y2="415.60" stroke="#000" stroke-width="0.95"/>
<polyline points="282.62,419.29 283.70,415.60 280.04,416.78" fill="none" stroke="#000" stroke-width="0.95" stroke-linejoin="miter"/>
<line x1="181.50" y1="520.50" x2="235.40" y2="438.50" stroke="#000" stroke-width="0.95"/>
<polyline points="235.04,442.33 235.40,438.50 232.03,440.35" fill="none" stroke="#000" stroke-width="0.95" stroke-linejoin="miter"/>
<line x1="181.50" y1="520.50" x2="260.00" y2="465.00" stroke="#000" stroke-width="0.95"/>
<polyline points="258.26,468.43 260.00,465.00 256.18,465.49" fill="none" stroke="#000" stroke-width="0.95" stroke-linejoin="miter"/>
<line x1="181.50" y1="520.50" x2="181.50" y2="461.80" stroke="#000" stroke-width="0.95"/>
<polyline points="183.30,465.20 181.50,461.80 179.70,465.20" fill="none" stroke="#000" stroke-width="0.95" stroke-linejoin="miter"/>
<line x1="181.50" y1="520.50" x2="139.30" y2="520.50" stroke="#000" stroke-width="0.95"/>
<polyline points="142.70,518.70 139.30,520.50 142.70,522.30" fill="none" stroke="#000" stroke-width="0.95" stroke-linejoin="miter"/>
<line x1="181.50" y1="520.50" x2="102.10" y2="519.90" stroke="#000" stroke-width="0.95"/>
<polyline points="105.51,518.13 102.10,519.90 105.49,521.73" fill="none" stroke="#000" stroke-width="0.95" stroke-linejoin="miter"/>
<line x1="181.50" y1="520.50" x2="115.60" y2="521.00" stroke="#000" stroke-width="0.95"/>
<polyline points="118.99,519.17 115.60,521.00 119.01,522.77" fill="none" stroke="#000" stroke-width="0.95" stroke-linejoin="miter"/>
<line x1="181.50" y1="520.50" x2="136.90" y2="549.30" stroke="#000" stroke-width="0.95"/>
<polyline points="138.78,545.94 136.90,549.30 140.73,548.97" fill="none" stroke="#000" stroke-width="0.95" stroke-linejoin="miter"/>
<line x1="181.50" y1="520.50" x2="120.50" y2="560.70" stroke="#000" stroke-width="0.95"/>
<polyline points="122.35,557.33 120.50,560.70 124.33,560.33" fill="none" stroke="#000" stroke-width="0.95" stroke-linejoin="miter"/>
<line x1="181.50" y1="520.50" x2="141.00" y2="564.00" stroke="#000" stroke-width="0.95"/>
<polyline points="142.00,560.29 141.00,564.00 144.63,562.74" fill="none" stroke="#000" stroke-width="0.95" stroke-linejoin="miter"/>
<line x1="181.50" y1="520.50" x2="168.40" y2="588.50" stroke="#000" stroke-width="0.95"/>
<polyline points="167.28,584.82 168.40,588.50 170.81,585.50" fill="none" stroke="#000" stroke-width="0.95" stroke-linejoin="miter"/>
<line x1="181.50" y1="520.50" x2="195.80" y2="592.60" stroke="#000" stroke-width="0.95"/>
<polyline points="193.37,589.62 195.80,592.60 196.90,588.91" fill="none" stroke="#000" stroke-width="0.95" stroke-linejoin="miter"/>
<line x1="181.50" y1="520.50" x2="188.80" y2="557.00" stroke="#000" stroke-width="0.95"/>
<polyline points="186.37,554.02 188.80,557.00 189.90,553.31" fill="none" stroke="#000" stroke-width="0.95" stroke-linejoin="miter"/>
<line x1="181.50" y1="520.50" x2="228.90" y2="546.40" stroke="#000" stroke-width="0.95"/>
<polyline points="225.05,546.35 228.90,546.40 226.78,543.19" fill="none" stroke="#000" stroke-width="0.95" stroke-linejoin="miter"/>
<text x="264.00" y="405.60" font-size="8.9" text-anchor="middle" fill="#000">MYC</text>
<text x="264.00" y="414.90" font-size="8.9" text-anchor="middle" fill="#000">Targets</text>
<text x="219.00" y="423.80" font-size="8.9" text-anchor="middle" fill="#000">Oxidative</text>
<text x="219.00" y="433.10" font-size="8.9" text-anchor="middle" fill="#000">Phosphorylation</text>
<text x="277.10" y="459.60" font-size="8.9" text-anchor="middle" fill="#000">ROS Path.</text>
<text x="145.50" y="459.60" font-size="8.9" text-anchor="middle" fill="#000">Fatty Acid Metab.</text>
<text x="150.40" y="492.60" font-size="8.9" text-anchor="middle" fill="#000">IFN</text>
<text x="150.40" y="502.70" font-size="8.9" text-anchor="middle" fill="#000">Gamma</text>
<text x="150.40" y="512.80" font-size="8.9" text-anchor="middle" fill="#000">Resp.</text>
<text x="96.40" y="516.80" font-size="8.9" text-anchor="middle" fill="#000">Calcineurin Path.</text>
<text x="105.40" y="533.10" font-size="8.9" text-anchor="middle" fill="#000">IFN Alpha Resp.</text>
<text x="111.50" y="545.80" font-size="8.9" text-anchor="middle" fill="#000">HDAC Path</text>
<text x="103.40" y="565.80" font-size="8.9" text-anchor="middle" fill="#000">VIP Path.</text>
<text x="145.10" y="574.40" font-size="8.9" text-anchor="middle" fill="#000">Stress Path.</text>
<text x="150.40" y="598.60" font-size="8.9" text-anchor="middle" fill="#000">Intrinsic Path.</text>
<text x="150.40" y="607.90" font-size="8.9" text-anchor="middle" fill="#000">For Apoptosis</text>
<text x="218.70" y="603.90" font-size="8.9" text-anchor="middle" fill="#000">TGFb Sign.</text>
<text x="222.70" y="567.10" font-size="8.9" text-anchor="middle" fill="#000">Muscle Hypertrophy</text>
<text x="251.80" y="539.30" font-size="8.9" text-anchor="middle" fill="#000">TNFa Sign. via</text>
<text x="251.80" y="548.60" font-size="8.9" text-anchor="middle" fill="#000">NFKb</text>
<line x1="27.60" y1="402.20" x2="27.60" y2="614.60" stroke="#000" stroke-width="1.0"/>
<polygon points="27.60,614.60 25.50,610.40 29.70,610.40" fill="#000"/>
<polygon points="27.60,402.20 25.50,406.40 29.70,406.40" fill="#000"/>
<text x="27.60" y="401.30" font-size="12" text-anchor="middle" fill="#000">NF</text>
<text x="27.60" y="628.80" font-size="12" text-anchor="middle" fill="#000">HF</text>
<text x="24.40" y="519.20" font-size="12.4" text-anchor="middle" font-weight="bold" fill="#000" transform="rotate(-90 24.40 519.20)">MCP2</text>
<line x1="66.60" y1="641.00" x2="293.40" y2="641.00" stroke="#000" stroke-width="1.0"/>
<polygon points="293.40,641.00 289.20,643.10 289.20,638.90" fill="#000"/>
<polygon points="66.60,641.00 70.80,643.10 70.80,638.90" fill="#000"/>
<text x="68.00" y="654.60" font-size="12" text-anchor="middle" fill="#000">HF</text>
<text x="293.80" y="654.60" font-size="12" text-anchor="middle" fill="#000">NF</text>
<text x="179.30" y="654.80" font-size="12.4" text-anchor="middle" font-weight="bold" fill="#000">MCP1</text>
<rect x="350.60" y="396.30" width="243.70" height="221.90" fill="#fff" stroke="#7f7f7f" stroke-width="0.9"/>
<line x1="350.60" y1="507.60" x2="594.30" y2="507.60" stroke="#222" stroke-width="0.9" stroke-dasharray="3.2,2.6"/>
<line x1="452.30" y1="396.30" x2="452.30" y2="618.20" stroke="#222" stroke-width="0.9" stroke-dasharray="3.2,2.6"/>
<text x="465.60" y="391.60" font-size="12.6" text-anchor="middle" font-weight="bold" fill="#000">Cell-type functions</text>
<line x1="348.20" y1="403.50" x2="350.60" y2="403.50" stroke="#333" stroke-width="0.8"/>
<text x="346.80" y="406.70" font-size="8.8" text-anchor="end" fill="#4d4d4d">0.3</text>
<line x1="348.20" y1="438.20" x2="350.60" y2="438.20" stroke="#333" stroke-width="0.8"/>
<text x="346.80" y="441.40" font-size="8.8" text-anchor="end" fill="#4d4d4d">0.2</text>
<line x1="348.20" y1="472.90" x2="350.60" y2="472.90" stroke="#333" stroke-width="0.8"/>
<text x="346.80" y="476.10" font-size="8.8" text-anchor="end" fill="#4d4d4d">0.1</text>
<line x1="348.20" y1="507.60" x2="350.60" y2="507.60" stroke="#333" stroke-width="0.8"/>
<text x="346.80" y="510.80" font-size="8.8" text-anchor="end" fill="#4d4d4d">0.0</text>
<line x1="348.20" y1="542.30" x2="350.60" y2="542.30" stroke="#333" stroke-width="0.8"/>
<text x="346.80" y="545.50" font-size="8.8" text-anchor="end" fill="#4d4d4d">−0.1</text>
<line x1="348.20" y1="577.00" x2="350.60" y2="577.00" stroke="#333" stroke-width="0.8"/>
<text x="346.80" y="580.20" font-size="8.8" text-anchor="end" fill="#4d4d4d">−0.2</text>
<line x1="348.20" y1="611.70" x2="350.60" y2="611.70" stroke="#333" stroke-width="0.8"/>
<text x="346.80" y="614.90" font-size="8.8" text-anchor="end" fill="#4d4d4d">−0.3</text>
<line x1="366.98" y1="618.20" x2="366.98" y2="620.60" stroke="#333" stroke-width="0.8"/>
<text x="366.98" y="628.80" font-size="8.8" text-anchor="middle" fill="#4d4d4d">−0.2</text>
<line x1="409.64" y1="618.20" x2="409.64" y2="620.60" stroke="#333" stroke-width="0.8"/>
<text x="409.64" y="628.80" font-size="8.8" text-anchor="middle" fill="#4d4d4d">−0.1</text>
<line x1="452.30" y1="618.20" x2="452.30" y2="620.60" stroke="#333" stroke-width="0.8"/>
<text x="452.30" y="628.80" font-size="8.8" text-anchor="middle" fill="#4d4d4d">0.0</text>
<line x1="494.96" y1="618.20" x2="494.96" y2="620.60" stroke="#333" stroke-width="0.8"/>
<text x="494.96" y="628.80" font-size="8.8" text-anchor="middle" fill="#4d4d4d">0.1</text>
<line x1="537.62" y1="618.20" x2="537.62" y2="620.60" stroke="#333" stroke-width="0.8"/>
<text x="537.62" y="628.80" font-size="8.8" text-anchor="middle" fill="#4d4d4d">0.2</text>
<line x1="580.28" y1="618.20" x2="580.28" y2="620.60" stroke="#333" stroke-width="0.8"/>
<text x="580.28" y="628.80" font-size="8.8" text-anchor="middle" fill="#4d4d4d">0.3</text>
<line x1="452.30" y1="507.60" x2="574.60" y2="507.60" stroke="#d3d3d3" stroke-width="0.95"/>
<polyline points="571.00,509.50 574.60,507.60 571.00,505.70" fill="none" stroke="#d3d3d3" stroke-width="0.95" stroke-linejoin="miter"/>
<line x1="452.30" y1="507.60" x2="507.60" y2="525.00" stroke="#12c0ff" stroke-width="0.95"/>
<polyline points="503.60,525.73 507.60,525.00 504.74,522.11" fill="none" stroke="#12c0ff" stroke-width="0.95" stroke-linejoin="miter"/>
<line x1="452.30" y1="507.60" x2="583.70" y2="453.30" stroke="#4a5ce0" stroke-width="0.95"/>
<polyline points="581.10,456.43 583.70,453.30 579.65,452.92" fill="none" stroke="#4a5ce0" stroke-width="0.95" stroke-linejoin="miter"/>
<line x1="452.30" y1="507.60" x2="373.60" y2="536.40" stroke="#4a5ce0" stroke-width="0.95"/>
<polyline points="376.33,533.38 373.60,536.40 377.63,536.95" fill="none" stroke="#4a5ce0" stroke-width="0.95" stroke-linejoin="miter"/>
<line x1="452.30" y1="507.60" x2="426.10" y2="444.80" stroke="#1fba5c" stroke-width="0.95"/>
<polyline points="429.24,447.39 426.10,444.80 425.73,448.85" fill="none" stroke="#1fba5c" stroke-width="0.95" stroke-linejoin="miter"/>
<line x1="452.30" y1="507.60" x2="420.00" y2="469.40" stroke="#1fba5c" stroke-width="0.95"/>
<polyline points="423.78,470.92 420.00,469.40 420.87,473.38" fill="none" stroke="#1fba5c" stroke-width="0.95" stroke-linejoin="miter"/>
<line x1="452.30" y1="507.60" x2="553.30" y2="433.10" stroke="#1fba5c" stroke-width="0.95"/>
<polyline points="551.53,436.77 553.30,433.10 549.28,433.71" fill="none" stroke="#1fba5c" stroke-width="0.95" stroke-linejoin="miter"/>
<line x1="452.30" y1="507.60" x2="522.10" y2="552.10" stroke="#1fba5c" stroke-width="0.95"/>
<polyline points="518.04,551.77 522.10,552.10 520.09,548.56" fill="none" stroke="#1fba5c" stroke-width="0.95" stroke-linejoin="miter"/>
<line x1="452.30" y1="507.60" x2="512.40" y2="577.10" stroke="#1fba5c" stroke-width="0.95"/>
<polyline points="508.61,575.62 512.40,577.10 511.48,573.13" fill="none" stroke="#1fba5c" stroke-width="0.95" stroke-linejoin="miter"/>
<line x1="452.30" y1="507.60" x2="407.80" y2="574.50" stroke="#1fba5c" stroke-width="0.95"/>
<polyline points="408.21,570.45 407.80,574.50 411.38,572.55" fill="none" stroke="#1fba5c" stroke-width="0.95" stroke-linejoin="miter"/>
<line x1="452.30" y1="507.60" x2="449.40" y2="410.70" stroke="#c23a2e" stroke-width="0.95"/>
<polyline points="451.41,414.24 449.40,410.70 447.61,414.36" fill="none" stroke="#c23a2e" stroke-width="0.95" stroke-linejoin="miter"/>
<line x1="452.30" y1="507.60" x2="505.60" y2="408.50" stroke="#c23a2e" stroke-width="0.95"/>
<polyline points="505.57,412.57 505.60,408.50 502.22,410.77" fill="none" stroke="#c23a2e" stroke-width="0.95" stroke-linejoin="miter"/>
<line x1="452.30" y1="507.60" x2="527.10" y2="477.80" stroke="#c23a2e" stroke-width="0.95"/>
<polyline points="524.46,480.90 527.10,477.80 523.05,477.37" fill="none" stroke="#c23a2e" stroke-width="0.95" stroke-linejoin="miter"/>
<line x1="452.30" y1="507.60" x2="477.00" y2="543.80" stroke="#c23a2e" stroke-width="0.95"/>
<polyline points="473.40,541.90 477.00,543.80 476.54,539.76" fill="none" stroke="#c23a2e" stroke-width="0.95" stroke-linejoin="miter"/>
<line x1="452.30" y1="507.60" x2="361.30" y2="582.40" stroke="#c23a2e" stroke-width="0.95"/>
<polyline points="362.87,578.65 361.30,582.40 365.29,581.58" fill="none" stroke="#c23a2e" stroke-width="0.95" stroke-linejoin="miter"/>
<line x1="452.30" y1="507.60" x2="430.50" y2="607.80" stroke="#c23a2e" stroke-width="0.95"/>
<polyline points="429.41,603.88 430.50,607.80 433.12,604.69" fill="none" stroke="#c23a2e" stroke-width="0.95" stroke-linejoin="miter"/>
<text x="420.60" y="406.20" font-size="8.9" text-anchor="middle" fill="#000">Cardiac Muscle</text>
<text x="420.60" y="414.50" font-size="8.9" text-anchor="middle" fill="#000">Contraction</text>
<text x="419.10" y="431.60" font-size="8.9" text-anchor="middle" fill="#000">IFN Alpha</text>
<text x="419.10" y="439.90" font-size="8.9" text-anchor="middle" fill="#000">Resp.</text>
<text x="402.90" y="463.60" font-size="8.9" text-anchor="middle" fill="#000">IFN Gamma</text>
<text x="402.90" y="471.90" font-size="8.9" text-anchor="middle" fill="#000">Resp.</text>
<text x="540.00" y="405.80" font-size="8.9" text-anchor="middle" fill="#000">Oxidative</text>
<text x="540.00" y="414.10" font-size="8.9" text-anchor="middle" fill="#000">Phosphorylation</text>
<text x="548.40" y="429.50" font-size="8.9" text-anchor="middle" fill="#000">Lymphangiogenesis</text>
<text x="565.00" y="445.60" font-size="8.9" text-anchor="middle" fill="#000">Reck</text>
<text x="565.00" y="453.60" font-size="8.9" text-anchor="middle" fill="#000">Pathway</text>
<text x="550.10" y="481.60" font-size="8.9" text-anchor="middle" fill="#000">Fatty Acid</text>
<text x="550.10" y="489.50" font-size="8.9" text-anchor="middle" fill="#000">Metab.</text>
<text x="552.70" y="503.00" font-size="8.9" text-anchor="middle" fill="#000">Nitrosative</text>
<text x="552.70" y="511.00" font-size="8.9" text-anchor="middle" fill="#000">Stress</text>
<text x="540.50" y="528.90" font-size="8.9" text-anchor="middle" fill="#000">IL6 JAK/STAT3</text>
<text x="540.50" y="537.20" font-size="8.9" text-anchor="middle" fill="#000">Sign.</text>
<text x="545.70" y="558.30" font-size="8.9" text-anchor="middle" fill="#000">NO1 Path.</text>
<text x="474.30" y="552.10" font-size="8.9" text-anchor="middle" fill="#000">Calcium Signaling</text>
<text x="474.30" y="560.40" font-size="8.9" text-anchor="middle" fill="#000">Path.</text>
<text x="532.60" y="586.30" font-size="8.9" text-anchor="middle" fill="#000">Angiogenesis</text>
<text x="374.90" y="546.90" font-size="8.9" text-anchor="middle" fill="#000">Collagens</text>
<text x="435.80" y="581.40" font-size="8.9" text-anchor="middle" fill="#000">Blood Vessel Endo.</text>
<text x="435.80" y="589.40" font-size="8.9" text-anchor="middle" fill="#000">Differentiation</text>
<text x="371.80" y="592.40" font-size="8.9" text-anchor="middle" fill="#000">Sarcomere</text>
<text x="371.80" y="600.70" font-size="8.9" text-anchor="middle" fill="#000">Org.</text>
<text x="441.00" y="616.00" font-size="8.9" text-anchor="middle" fill="#000">Abnormal Z Disc Morph.</text>
<line x1="323.40" y1="400.00" x2="323.40" y2="614.60" stroke="#000" stroke-width="1.0"/>
<polygon points="323.40,614.60 321.30,610.40 325.50,610.40" fill="#000"/>
<polygon points="323.40,400.00 321.30,404.20 325.50,404.20" fill="#000"/>
<text x="323.40" y="399.60" font-size="12" text-anchor="middle" fill="#000">NF</text>
<text x="323.70" y="628.80" font-size="12" text-anchor="middle" fill="#000">HF</text>
<text x="319.20" y="507.00" font-size="12.4" text-anchor="middle" font-weight="bold" fill="#000" transform="rotate(-90 319.20 507.00)">MCP2</text>
<line x1="357.30" y1="639.20" x2="584.20" y2="639.20" stroke="#000" stroke-width="1.0"/>
<polygon points="584.20,639.20 580.00,641.30 580.00,637.10" fill="#000"/>
<polygon points="357.30,639.20 361.50,641.30 361.50,637.10" fill="#000"/>
<text x="357.50" y="653.00" font-size="12" text-anchor="middle" fill="#000">HF</text>
<text x="584.00" y="653.00" font-size="12" text-anchor="middle" fill="#000">NF</text>
<text x="469.80" y="653.40" font-size="12.4" text-anchor="middle" font-weight="bold" fill="#000">MCP1</text>
<line x1="604.60" y1="465.80" x2="621.40" y2="465.80" stroke="#c23a2e" stroke-width="1.3"/>
<polyline points="617.00,468.50 621.40,465.80 617.00,463.10" fill="none" stroke="#c23a2e" stroke-width="1.3" stroke-linejoin="miter"/>
<text x="630.00" y="469.60" font-size="10.7" text-anchor="start" fill="#000">CM</text>
<line x1="604.60" y1="486.90" x2="621.40" y2="486.90" stroke="#1fba5c" stroke-width="1.3"/>
<polyline points="617.00,489.60 621.40,486.90 617.00,484.20" fill="none" stroke="#1fba5c" stroke-width="1.3" stroke-linejoin="miter"/>
<text x="630.00" y="490.70" font-size="10.7" text-anchor="start" fill="#000">Endo</text>
<line x1="604.60" y1="508.00" x2="621.40" y2="508.00" stroke="#4a5ce0" stroke-width="1.3"/>
<polyline points="617.00,510.70 621.40,508.00 617.00,505.30" fill="none" stroke="#4a5ce0" stroke-width="1.3" stroke-linejoin="miter"/>
<text x="630.00" y="511.80" font-size="10.7" text-anchor="start" fill="#000">Fib</text>
<line x1="604.60" y1="529.10" x2="621.40" y2="529.10" stroke="#12c0ff" stroke-width="1.3"/>
<polyline points="617.00,531.80 621.40,529.10 617.00,526.40" fill="none" stroke="#12c0ff" stroke-width="1.3" stroke-linejoin="miter"/>
<text x="630.00" y="532.90" font-size="10.7" text-anchor="start" fill="#000">Myeloid</text>
<line x1="604.60" y1="550.20" x2="621.40" y2="550.20" stroke="#d3d3d3" stroke-width="1.3"/>
<polyline points="617.00,552.90 621.40,550.20 617.00,547.50" fill="none" stroke="#d3d3d3" stroke-width="1.3" stroke-linejoin="miter"/>
<text x="630.00" y="554.00" font-size="10.7" text-anchor="start" fill="#000">PC</text>
</g>
<g id="panelE">
<text x="7.00" y="685.20" font-size="20" text-anchor="start" fill="#000">E</text>
<circle cx="40.70" cy="671.40" r="10.9" fill="#e3e1f6"/>
<circle cx="62.20" cy="713.40" r="10.9" fill="#e3e1f6"/>
<circle cx="95.50" cy="730.60" r="10.9" fill="#e3e1f6"/>
<circle cx="53.70" cy="746.00" r="10.9" fill="#e3e1f6"/>
<circle cx="76.70" cy="757.90" r="10.9" fill="#e3e1f6"/>
<circle cx="101.20" cy="774.70" r="10.9" fill="#e3e1f6"/>
<circle cx="50.20" cy="785.50" r="10.9" fill="#e3e1f6"/>
<path d="M56.80,702.60 Q47.60,694.60 46.14,685.25" fill="none" stroke="#de2233" stroke-width="2.0"/>
<polygon points="45.70,682.40 48.33,685.63 44.18,686.28" fill="#de2233"/>
<path d="M47.30,682.40 Q55.80,691.80 56.61,699.50" fill="none" stroke="#8a33d0" stroke-width="1.1"/>
<polygon points="56.90,702.20 54.65,699.02 58.43,698.62" fill="#8a33d0"/>
<path d="M73.90,719.10 Q80.60,719.00 83.17,722.10" fill="none" stroke="#8a33d0" stroke-width="1.2"/>
<polygon points="84.90,724.20 81.27,722.79 84.20,720.37" fill="#8a33d0"/>
<path d="M84.70,725.30 Q77.60,724.80 74.86,721.88" fill="none" stroke="#5540f0" stroke-width="1.2"/>
<polygon points="73.00,719.90 76.71,721.08 73.94,723.68" fill="#5540f0"/>
<path d="M58.94,728.04 Q58.40,730.20 57.81,732.37" fill="none" stroke="#a32fbc" stroke-width="2.1"/>
<polygon points="57.10,735.00 55.77,731.12 60.21,732.32" fill="#a32fbc"/>
<polygon points="59.60,725.40 61.01,729.26 56.54,728.14" fill="#a32fbc"/>
<path d="M71.60,745.20 Q65.00,736.00 65.53,727.61" fill="none" stroke="#5540f0" stroke-width="1.2"/>
<polygon points="65.70,724.90 67.38,728.41 63.59,728.17" fill="#5540f0"/>
<path d="M67.30,725.60 Q74.30,735.60 74.00,743.48" fill="none" stroke="#8a33d0" stroke-width="1.2"/>
<polygon points="73.90,746.20 72.13,742.73 75.93,742.87" fill="#8a33d0"/>
<path d="M65.10,740.90 Q73.90,735.00 81.78,734.55" fill="none" stroke="#8a33d0" stroke-width="1.3"/>
<polygon points="84.50,734.40 81.21,736.49 81.00,732.70" fill="#8a33d0"/>
<path d="M84.30,735.50 Q77.30,741.50 69.70,742.46" fill="none" stroke="#8a33d0" stroke-width="1.2"/>
<polygon points="67.00,742.80 70.14,740.49 70.61,744.26" fill="#8a33d0"/>
<path d="M87.04,742.83 Q86.00,744.30 84.88,745.88" fill="none" stroke="#a32fbc" stroke-width="2.1"/>
<polygon points="83.30,748.10 83.39,744.00 87.14,746.66" fill="#a32fbc"/>
<polygon points="88.60,740.60 88.53,744.70 84.76,742.06" fill="#a32fbc"/>
<path d="M100.40,741.70 Q103.60,750.50 103.21,759.78" fill="none" stroke="#962fc6" stroke-width="1.3"/>
<polygon points="103.10,762.50 101.34,759.02 105.14,759.18" fill="#962fc6"/>
<path d="M51.20,773.10 Q49.00,766.00 50.20,761.53" fill="none" stroke="#8a33d0" stroke-width="1.1"/>
<polygon points="50.90,758.90 51.86,762.68 48.19,761.69" fill="#8a33d0"/>
<path d="M53.30,758.30 Q55.40,766.60 53.39,771.21" fill="none" stroke="#c4236c" stroke-width="1.9"/>
<polygon points="52.30,773.70 51.74,769.74 55.59,771.42" fill="#c4236c"/>
<path d="M58.20,775.60 Q61.20,769.00 65.69,767.14" fill="none" stroke="#ab2cae" stroke-width="1.4"/>
<polygon points="68.20,766.10 65.79,769.16 64.33,765.65" fill="#ab2cae"/>
<path d="M69.00,767.40 Q66.20,774.80 61.07,776.23" fill="none" stroke="#de2233" stroke-width="2.2"/>
<polygon points="58.30,777.00 61.18,773.91 62.36,778.15" fill="#de2233"/>
<text x="40.70" y="674.10" font-size="7.6" text-anchor="middle" font-weight="bold" fill="#000">CM</text>
<text x="62.20" y="716.10" font-size="7.6" text-anchor="middle" font-weight="bold" fill="#000">Fib</text>
<text x="95.50" y="733.30" font-size="7.6" text-anchor="middle" font-weight="bold" fill="#000">Endo</text>
<text x="53.70" y="748.70" font-size="7.6" text-anchor="middle" font-weight="bold" fill="#000">Myeloid</text>
<text x="76.70" y="760.60" font-size="7.6" text-anchor="middle" font-weight="bold" fill="#000">PC</text>
<text x="101.20" y="777.40" font-size="7.6" text-anchor="middle" font-weight="bold" fill="#000">Lymphoid</text>
<text x="50.20" y="788.20" font-size="7.6" text-anchor="middle" font-weight="bold" fill="#000">vSMCs</text>
<text x="68.00" y="806.90" font-size="9.2" text-anchor="middle" fill="#000">Predictive importance</text>
<defs><linearGradient id="gpi" x1="0" x2="1" y1="0" y2="0"><stop offset="0" stop-color="#3f3cf5"/><stop offset="0.3" stop-color="#8a35d6"/><stop offset="0.6" stop-color="#c02d92"/><stop offset="0.85" stop-color="#dd2a34"/><stop offset="1" stop-color="#dc2a1e"/></linearGradient></defs>
<rect x="31.00" y="809.40" width="72.30" height="10.20" fill="url(#gpi)" stroke="none" stroke-width="1"/>
<line x1="33.20" y1="809.40" x2="33.20" y2="811.40" stroke="#fff" stroke-width="0.5"/>
<line x1="33.20" y1="817.60" x2="33.20" y2="819.60" stroke="#fff" stroke-width="0.5"/>
<text x="33.20" y="831.60" font-size="8.8" text-anchor="middle" fill="#000">0.2</text>
<line x1="49.70" y1="809.40" x2="49.70" y2="811.40" stroke="#fff" stroke-width="0.5"/>
<line x1="49.70" y1="817.60" x2="49.70" y2="819.60" stroke="#fff" stroke-width="0.5"/>
<text x="49.70" y="831.60" font-size="8.8" text-anchor="middle" fill="#000">0.3</text>
<line x1="66.20" y1="809.40" x2="66.20" y2="811.40" stroke="#fff" stroke-width="0.5"/>
<line x1="66.20" y1="817.60" x2="66.20" y2="819.60" stroke="#fff" stroke-width="0.5"/>
<text x="66.20" y="831.60" font-size="8.8" text-anchor="middle" fill="#000">0.4</text>
<line x1="82.60" y1="809.40" x2="82.60" y2="811.40" stroke="#fff" stroke-width="0.5"/>
<line x1="82.60" y1="817.60" x2="82.60" y2="819.60" stroke="#fff" stroke-width="0.5"/>
<text x="82.60" y="831.60" font-size="8.8" text-anchor="middle" fill="#000">0.5</text>
<line x1="99.40" y1="809.40" x2="99.40" y2="811.40" stroke="#fff" stroke-width="0.5"/>
<line x1="99.40" y1="817.60" x2="99.40" y2="819.60" stroke="#fff" stroke-width="0.5"/>
<text x="99.40" y="831.60" font-size="8.8" text-anchor="middle" fill="#000">0.6</text>
</g>
<g id="panelF">
<text x="120.40" y="685.20" font-size="20" text-anchor="start" fill="#000">F</text>
<line x1="168.90" y1="666.00" x2="168.90" y2="804.00" stroke="#000" stroke-width="1.0"/>
<line x1="168.40" y1="804.00" x2="304.80" y2="804.00" stroke="#000" stroke-width="1.0"/>
<line x1="166.30" y1="675.90" x2="168.90" y2="675.90" stroke="#000" stroke-width="0.9"/>
<text x="164.70" y="679.20" font-size="9.4" text-anchor="end" fill="#000">40</text>
<line x1="166.30" y1="707.90" x2="168.90" y2="707.90" stroke="#000" stroke-width="0.9"/>
<text x="164.70" y="711.20" font-size="9.4" text-anchor="end" fill="#000">30</text>
<line x1="166.30" y1="740.10" x2="168.90" y2="740.10" stroke="#000" stroke-width="0.9"/>
<text x="164.70" y="743.40" font-size="9.4" text-anchor="end" fill="#000">20</text>
<line x1="166.30" y1="772.30" x2="168.90" y2="772.30" stroke="#000" stroke-width="0.9"/>
<text x="164.70" y="775.60" font-size="9.4" text-anchor="end" fill="#000">10</text>
<line x1="200.70" y1="804.00" x2="200.70" y2="806.60" stroke="#000" stroke-width="0.9"/>
<text x="200.70" y="816.40" font-size="9.4" text-anchor="middle" fill="#000">0.00</text>
<line x1="237.60" y1="804.00" x2="237.60" y2="806.60" stroke="#000" stroke-width="0.9"/>
<text x="237.60" y="816.40" font-size="9.4" text-anchor="middle" fill="#000">0.25</text>
<line x1="274.60" y1="804.00" x2="274.60" y2="806.60" stroke="#000" stroke-width="0.9"/>
<text x="274.60" y="816.40" font-size="9.4" text-anchor="middle" fill="#000">0.50</text>
<text x="236.80" y="829.80" font-size="11.6" text-anchor="middle" fill="#000">predictive importance</text>
<text x="147.60" y="735.20" font-size="11.6" text-anchor="middle" fill="#000" transform="rotate(-90 147.60 735.20)">n(L−R pairs)</text>
<line x1="174.90" y1="780.90" x2="283.90" y2="735.50" stroke="#9c9c9c" stroke-width="1.5"/>
<circle cx="247.80" cy="778.50" r="2.75" fill="#e6ad1f"/>
<circle cx="215.60" cy="781.50" r="2.75" fill="#e6ad1f"/>
<circle cx="176.40" cy="797.70" r="2.75" fill="#e6ad1f"/>
<circle cx="197.00" cy="797.70" r="2.75" fill="#e6ad1f"/>
<circle cx="204.00" cy="797.70" r="2.75" fill="#e6ad1f"/>
<circle cx="214.50" cy="797.70" r="2.75" fill="#e6ad1f"/>
<circle cx="189.30" cy="736.90" r="2.75" fill="#eb8769"/>
<circle cx="174.90" cy="755.90" r="2.75" fill="#eb8769"/>
<circle cx="189.10" cy="765.80" r="2.75" fill="#eb8769"/>
<circle cx="271.70" cy="775.20" r="2.75" fill="#eb8769"/>
<circle cx="283.90" cy="778.50" r="2.75" fill="#eb8769"/>
<circle cx="208.60" cy="788.10" r="2.75" fill="#eb8769"/>
<circle cx="278.50" cy="701.40" r="2.75" fill="#b5201e"/>
<circle cx="208.00" cy="733.60" r="2.75" fill="#b5201e"/>
<circle cx="221.30" cy="768.60" r="2.75" fill="#b5201e"/>
<circle cx="224.40" cy="772.10" r="2.75" fill="#b5201e"/>
<circle cx="190.40" cy="778.50" r="2.75" fill="#b5201e"/>
<circle cx="198.50" cy="788.10" r="2.75" fill="#b5201e"/>
<circle cx="241.00" cy="698.30" r="2.75" fill="#0cb052"/>
<circle cx="205.30" cy="768.60" r="2.75" fill="#0cb052"/>
<circle cx="242.30" cy="765.80" r="2.75" fill="#0cb052"/>
<circle cx="240.10" cy="768.60" r="2.75" fill="#0cb052"/>
<circle cx="216.70" cy="788.10" r="2.75" fill="#0cb052"/>
<circle cx="193.70" cy="791.40" r="2.75" fill="#0cb052"/>
<circle cx="232.30" cy="727.20" r="2.75" fill="#4556dd"/>
<circle cx="242.30" cy="730.30" r="2.75" fill="#4556dd"/>
<circle cx="242.80" cy="755.90" r="2.75" fill="#4556dd"/>
<circle cx="231.20" cy="759.20" r="2.75" fill="#4556dd"/>
<circle cx="188.50" cy="775.20" r="2.75" fill="#4556dd"/>
<circle cx="204.70" cy="775.20" r="2.75" fill="#4556dd"/>
<circle cx="250.70" cy="672.70" r="2.75" fill="#05befe"/>
<circle cx="237.10" cy="717.60" r="2.75" fill="#05befe"/>
<circle cx="215.60" cy="733.60" r="2.75" fill="#05befe"/>
<circle cx="194.80" cy="759.20" r="2.75" fill="#05befe"/>
<circle cx="201.60" cy="785.00" r="2.75" fill="#05befe"/>
<circle cx="239.90" cy="797.70" r="2.75" fill="#05befe"/>
<circle cx="243.00" cy="730.50" r="2.75" fill="#cfcfcf"/>
<circle cx="240.10" cy="733.60" r="2.75" fill="#cfcfcf"/>
<circle cx="215.00" cy="739.90" r="2.75" fill="#cfcfcf"/>
<circle cx="194.40" cy="765.80" r="2.75" fill="#cfcfcf"/>
<circle cx="192.20" cy="781.50" r="2.75" fill="#cfcfcf"/>
<circle cx="251.10" cy="791.40" r="2.75" fill="#cfcfcf"/>
<line x1="250.70" y1="672.70" x2="257.50" y2="672.70" stroke="#000" stroke-width="0.8"/>
<circle cx="250.70" cy="672.70" r="0.8" fill="#000"/>
<text x="258.60" y="675.80" font-size="8.6" text-anchor="start" fill="#000">Fib</text>
<line x1="241.00" y1="698.30" x2="248.00" y2="698.30" stroke="#000" stroke-width="0.8"/>
<circle cx="241.00" cy="698.30" r="0.8" fill="#000"/>
<text x="249.20" y="701.40" font-size="8.6" text-anchor="start" fill="#000">Fib</text>
<line x1="278.50" y1="701.40" x2="285.50" y2="701.40" stroke="#000" stroke-width="0.8"/>
<circle cx="278.50" cy="701.40" r="0.8" fill="#000"/>
<text x="286.60" y="704.50" font-size="8.6" text-anchor="start" fill="#000">Fib</text>
<line x1="240.60" y1="733.40" x2="247.00" y2="733.40" stroke="#000" stroke-width="0.8"/>
<circle cx="240.60" cy="733.40" r="0.8" fill="#000"/>
<text x="248.20" y="736.50" font-size="8.6" text-anchor="start" fill="#000">Fib</text>
<line x1="174.90" y1="755.90" x2="180.00" y2="753.60" stroke="#000" stroke-width="0.8"/>
<circle cx="174.90" cy="755.90" r="0.8" fill="#000"/>
<text x="181.00" y="755.80" font-size="8.6" text-anchor="start" fill="#000">Fib</text>
<line x1="215.60" y1="781.50" x2="222.80" y2="781.50" stroke="#000" stroke-width="0.8"/>
<circle cx="215.60" cy="781.50" r="0.8" fill="#000"/>
<text x="224.00" y="784.60" font-size="8.6" text-anchor="start" fill="#000">Fib</text>
<text x="175.4" y="682.4" font-size="8.8"><tspan font-style="italic">R</tspan> = 0.33, <tspan font-style="italic">p</tspan> = 0.034</text>
<circle cx="314.60" cy="699.60" r="3.1" fill="#b5201e"/>
<text x="328.40" y="703.40" font-size="10.7" text-anchor="start" fill="#000">CM</text>
<circle cx="314.60" cy="713.65" r="3.1" fill="#0cb052"/>
<text x="328.40" y="717.45" font-size="10.7" text-anchor="start" fill="#000">Endo</text>
<circle cx="314.60" cy="727.70" r="3.1" fill="#4556dd"/>
<text x="328.40" y="731.50" font-size="10.7" text-anchor="start" fill="#000">Fib</text>
<circle cx="314.60" cy="741.75" r="3.1" fill="#e6ad1f"/>
<text x="328.40" y="745.55" font-size="10.7" text-anchor="start" fill="#000">Lymphoid</text>
<circle cx="314.60" cy="755.80" r="3.1" fill="#05befe"/>
<text x="328.40" y="759.60" font-size="10.7" text-anchor="start" fill="#000">Myeloid</text>
<circle cx="314.60" cy="769.85" r="3.1" fill="#cfcfcf"/>
<text x="328.40" y="773.65" font-size="10.7" text-anchor="start" fill="#000">PC</text>
<circle cx="314.60" cy="783.90" r="3.1" fill="#eb8769"/>
<text x="328.40" y="787.70" font-size="10.7" text-anchor="start" fill="#000">vSMCs</text>
</g>
<g id="panelG">
<text transform="translate(374.6,685.4) scale(1.06,1)" font-size="20">G</text>
<rect x="519.62" y="675.15" width="10.24" height="10.30" fill="#e0867a" stroke="none" stroke-width="1"/>
<rect x="529.56" y="675.15" width="10.24" height="10.30" fill="#da3230" stroke="none" stroke-width="1"/>
<rect x="539.51" y="675.15" width="10.24" height="10.30" fill="#d72828" stroke="none" stroke-width="1"/>
<rect x="549.45" y="675.15" width="10.24" height="10.30" fill="#dc4039" stroke="none" stroke-width="1"/>
<rect x="559.39" y="675.15" width="10.24" height="10.30" fill="#dc877c" stroke="none" stroke-width="1"/>
<rect x="609.12" y="675.15" width="10.24" height="10.30" fill="#da3a33" stroke="none" stroke-width="1"/>
<rect x="519.62" y="685.15" width="10.24" height="10.30" fill="#dd8b7e" stroke="none" stroke-width="1"/>
<rect x="529.56" y="685.15" width="10.24" height="10.30" fill="#da8a80" stroke="none" stroke-width="1"/>
<rect x="539.51" y="685.15" width="10.24" height="10.30" fill="#db8277" stroke="none" stroke-width="1"/>
<rect x="569.34" y="685.15" width="10.24" height="10.30" fill="#dd7f73" stroke="none" stroke-width="1"/>
<rect x="579.28" y="685.15" width="10.24" height="10.30" fill="#dc7b6f" stroke="none" stroke-width="1"/>
<rect x="589.23" y="685.15" width="10.24" height="10.30" fill="#dd796d" stroke="none" stroke-width="1"/>
<rect x="599.17" y="685.15" width="10.24" height="10.30" fill="#dc5146" stroke="none" stroke-width="1"/>
<rect x="619.06" y="685.15" width="10.24" height="10.30" fill="#da3030" stroke="none" stroke-width="1"/>
<rect x="629.01" y="685.15" width="10.24" height="10.30" fill="#da3030" stroke="none" stroke-width="1"/>
<rect x="459.95" y="695.15" width="10.24" height="10.30" fill="#c3c0c0" stroke="none" stroke-width="1"/>
<rect x="469.89" y="695.15" width="10.24" height="10.30" fill="#c3c0c0" stroke="none" stroke-width="1"/>
<rect x="489.78" y="695.15" width="10.24" height="10.30" fill="#cdb5b1" stroke="none" stroke-width="1"/>
<rect x="499.73" y="695.15" width="10.24" height="10.30" fill="#cdb5b1" stroke="none" stroke-width="1"/>
<rect x="509.67" y="695.15" width="10.24" height="10.30" fill="#cdb5b1" stroke="none" stroke-width="1"/>
<rect x="529.56" y="695.15" width="10.24" height="10.30" fill="#c9bcbc" stroke="none" stroke-width="1"/>
<rect x="539.51" y="695.15" width="10.24" height="10.30" fill="#d0aca8" stroke="none" stroke-width="1"/>
<rect x="459.95" y="705.15" width="10.24" height="10.30" fill="#c3c0c0" stroke="none" stroke-width="1"/>
<rect x="519.62" y="705.15" width="10.24" height="10.30" fill="#c3c0c0" stroke="none" stroke-width="1"/>
<rect x="529.56" y="705.15" width="10.24" height="10.30" fill="#c9bcbc" stroke="none" stroke-width="1"/>
<rect x="539.51" y="705.15" width="10.24" height="10.30" fill="#d0aca8" stroke="none" stroke-width="1"/>
<rect x="459.95" y="715.15" width="10.24" height="10.30" fill="#c9bcbc" stroke="none" stroke-width="1"/>
<rect x="479.84" y="715.15" width="10.24" height="10.30" fill="#c3c0c0" stroke="none" stroke-width="1"/>
<rect x="489.78" y="715.15" width="10.24" height="10.30" fill="#c3c0c0" stroke="none" stroke-width="1"/>
<rect x="519.62" y="715.15" width="10.24" height="10.30" fill="#c3c0c0" stroke="none" stroke-width="1"/>
<rect x="529.56" y="715.15" width="10.24" height="10.30" fill="#c9bcbc" stroke="none" stroke-width="1"/>
<rect x="539.51" y="715.15" width="10.24" height="10.30" fill="#d0aca8" stroke="none" stroke-width="1"/>
<rect x="549.45" y="715.15" width="10.24" height="10.30" fill="#c3c0c0" stroke="none" stroke-width="1"/>
<rect x="459.95" y="725.15" width="10.24" height="10.30" fill="#c3c0c0" stroke="none" stroke-width="1"/>
<rect x="469.89" y="725.15" width="10.24" height="10.30" fill="#c3c0c0" stroke="none" stroke-width="1"/>
<rect x="519.62" y="725.15" width="10.24" height="10.30" fill="#c3c0c0" stroke="none" stroke-width="1"/>
<rect x="529.56" y="725.15" width="10.24" height="10.30" fill="#c9bcbc" stroke="none" stroke-width="1"/>
<rect x="539.51" y="725.15" width="10.24" height="10.30" fill="#d0aca8" stroke="none" stroke-width="1"/>
<rect x="549.45" y="725.15" width="10.24" height="10.30" fill="#c3c0c0" stroke="none" stroke-width="1"/>
<rect x="459.95" y="735.15" width="10.24" height="10.30" fill="#c3c0c0" stroke="none" stroke-width="1"/>
<rect x="469.89" y="735.15" width="10.24" height="10.30" fill="#c3c0c0" stroke="none" stroke-width="1"/>
<rect x="519.62" y="735.15" width="10.24" height="10.30" fill="#c3c0c0" stroke="none" stroke-width="1"/>
<rect x="529.56" y="735.15" width="10.24" height="10.30" fill="#c9bcbc" stroke="none" stroke-width="1"/>
<rect x="539.51" y="735.15" width="10.24" height="10.30" fill="#d0aca8" stroke="none" stroke-width="1"/>
<rect x="460.00" y="675.20" width="179.00" height="70.00" fill="none" stroke="#000" stroke-width="1.0"/>
<line x1="457.40" y1="680.20" x2="460.00" y2="680.20" stroke="#000" stroke-width="0.9"/>
<text x="452.60" y="683.20" font-size="8.4" text-anchor="end" fill="#000">NRG1</text>
<line x1="457.40" y1="690.20" x2="460.00" y2="690.20" stroke="#000" stroke-width="0.9"/>
<text x="452.60" y="693.20" font-size="8.4" text-anchor="end" fill="#000">BMP4</text>
<line x1="457.40" y1="700.20" x2="460.00" y2="700.20" stroke="#000" stroke-width="0.9"/>
<text x="452.60" y="703.20" font-size="8.4" text-anchor="end" fill="#000">COL1A1</text>
<line x1="457.40" y1="710.20" x2="460.00" y2="710.20" stroke="#000" stroke-width="0.9"/>
<text x="452.60" y="713.20" font-size="8.4" text-anchor="end" fill="#000">SLIT1</text>
<line x1="457.40" y1="720.20" x2="460.00" y2="720.20" stroke="#000" stroke-width="0.9"/>
<text x="452.60" y="723.20" font-size="8.4" text-anchor="end" fill="#000">LAMA4</text>
<line x1="457.40" y1="730.20" x2="460.00" y2="730.20" stroke="#000" stroke-width="0.9"/>
<text x="452.60" y="733.20" font-size="8.4" text-anchor="end" fill="#000">SLIT2</text>
<line x1="457.40" y1="740.20" x2="460.00" y2="740.20" stroke="#000" stroke-width="0.9"/>
<text x="452.60" y="743.20" font-size="8.4" text-anchor="end" fill="#000">MXRA5</text>
<line x1="464.97" y1="745.20" x2="464.97" y2="747.80" stroke="#000" stroke-width="0.9"/>
<text x="467.97" y="752.00" font-size="8.4" text-anchor="end" fill="#000" transform="rotate(-90 467.97 752.00)">DHRS3</text>
<line x1="474.92" y1="745.20" x2="474.92" y2="747.80" stroke="#000" stroke-width="0.9"/>
<text x="477.92" y="752.00" font-size="8.4" text-anchor="end" fill="#000" transform="rotate(-90 477.92 752.00)">SOCS2</text>
<line x1="484.86" y1="745.20" x2="484.86" y2="747.80" stroke="#000" stroke-width="0.9"/>
<text x="487.86" y="752.00" font-size="8.4" text-anchor="end" fill="#000" transform="rotate(-90 487.86 752.00)">HMGB2</text>
<line x1="494.81" y1="745.20" x2="494.81" y2="747.80" stroke="#000" stroke-width="0.9"/>
<text x="497.81" y="752.00" font-size="8.4" text-anchor="end" fill="#000" transform="rotate(-90 497.81 752.00)">SOX4</text>
<line x1="504.75" y1="745.20" x2="504.75" y2="747.80" stroke="#000" stroke-width="0.9"/>
<text x="507.75" y="752.00" font-size="8.4" text-anchor="end" fill="#000" transform="rotate(-90 507.75 752.00)">LCNL1</text>
<line x1="514.69" y1="745.20" x2="514.69" y2="747.80" stroke="#000" stroke-width="0.9"/>
<text x="517.69" y="752.00" font-size="8.4" text-anchor="end" fill="#000" transform="rotate(-90 517.69 752.00)">ASB18</text>
<line x1="524.64" y1="745.20" x2="524.64" y2="747.80" stroke="#000" stroke-width="0.9"/>
<text x="527.64" y="752.00" font-size="8.4" text-anchor="end" fill="#000" transform="rotate(-90 527.64 752.00)">ANKRD1</text>
<line x1="534.58" y1="745.20" x2="534.58" y2="747.80" stroke="#000" stroke-width="0.9"/>
<text x="537.58" y="752.00" font-size="8.4" text-anchor="end" fill="#000" transform="rotate(-90 537.58 752.00)">IER3</text>
<line x1="544.53" y1="745.20" x2="544.53" y2="747.80" stroke="#000" stroke-width="0.9"/>
<text x="547.53" y="752.00" font-size="8.4" text-anchor="end" fill="#000" transform="rotate(-90 547.53 752.00)">CCND1</text>
<line x1="554.47" y1="745.20" x2="554.47" y2="747.80" stroke="#000" stroke-width="0.9"/>
<text x="557.47" y="752.00" font-size="8.4" text-anchor="end" fill="#000" transform="rotate(-90 557.47 752.00)">PHLDA1</text>
<line x1="564.42" y1="745.20" x2="564.42" y2="747.80" stroke="#000" stroke-width="0.9"/>
<text x="567.42" y="752.00" font-size="8.4" text-anchor="end" fill="#000" transform="rotate(-90 567.42 752.00)">SLCO1B3</text>
<line x1="574.36" y1="745.20" x2="574.36" y2="747.80" stroke="#000" stroke-width="0.9"/>
<text x="577.36" y="752.00" font-size="8.4" text-anchor="end" fill="#000" transform="rotate(-90 577.36 752.00)">SFRP1</text>
<line x1="584.31" y1="745.20" x2="584.31" y2="747.80" stroke="#000" stroke-width="0.9"/>
<text x="587.31" y="752.00" font-size="8.4" text-anchor="end" fill="#000" transform="rotate(-90 587.31 752.00)">KCNMB4</text>
<line x1="594.25" y1="745.20" x2="594.25" y2="747.80" stroke="#000" stroke-width="0.9"/>
<text x="597.25" y="752.00" font-size="8.4" text-anchor="end" fill="#000" transform="rotate(-90 597.25 752.00)">ETV1</text>
<line x1="604.19" y1="745.20" x2="604.19" y2="747.80" stroke="#000" stroke-width="0.9"/>
<text x="607.19" y="752.00" font-size="8.4" text-anchor="end" fill="#000" transform="rotate(-90 607.19 752.00)">PROM1</text>
<line x1="614.14" y1="745.20" x2="614.14" y2="747.80" stroke="#000" stroke-width="0.9"/>
<text x="617.14" y="752.00" font-size="8.4" text-anchor="end" fill="#000" transform="rotate(-90 617.14 752.00)">ARNTL2</text>
<line x1="624.08" y1="745.20" x2="624.08" y2="747.80" stroke="#000" stroke-width="0.9"/>
<text x="627.08" y="752.00" font-size="8.4" text-anchor="end" fill="#000" transform="rotate(-90 627.08 752.00)">SHB</text>
<line x1="634.03" y1="745.20" x2="634.03" y2="747.80" stroke="#000" stroke-width="0.9"/>
<text x="637.03" y="752.00" font-size="8.4" text-anchor="end" fill="#000" transform="rotate(-90 637.03 752.00)">PROS1</text>
<text x="413.50" y="710.00" font-size="12.3" text-anchor="middle" fill="#000" transform="rotate(-90 413.50 710.00)">Fib ligands</text>
<text x="549.40" y="804.20" font-size="12.3" text-anchor="middle" fill="#000">CM target genes</text>
<text x="420.00" y="823.20" font-size="11.9" text-anchor="start" fill="#000">Regulatory potential</text>
<defs><linearGradient id="greg" x1="0" x2="1" y1="0" y2="0"><stop offset="0" stop-color="#c4c4c4"/><stop offset="0.3" stop-color="#d3a9a5"/><stop offset="0.65" stop-color="#dd6b62"/><stop offset="1" stop-color="#da2a2a"/></linearGradient></defs>
<rect x="531.10" y="813.40" width="101.10" height="11.50" fill="url(#greg)" stroke="none" stroke-width="1"/>
<text x="559.50" y="839.40" font-size="10.8" text-anchor="middle" fill="#000">0.05</text>
<text x="594.10" y="839.40" font-size="10.8" text-anchor="middle" fill="#000">0.15</text>
<text x="628.00" y="839.40" font-size="10.8" text-anchor="middle" fill="#000">0.20</text>
<line x1="562.90" y1="813.20" x2="562.90" y2="815.40" stroke="#fff" stroke-width="0.5"/>
<line x1="562.90" y1="822.30" x2="562.90" y2="824.50" stroke="#fff" stroke-width="0.5"/>
<line x1="596.60" y1="813.20" x2="596.60" y2="815.40" stroke="#fff" stroke-width="0.5"/>
<line x1="596.60" y1="822.30" x2="596.60" y2="824.50" stroke="#fff" stroke-width="0.5"/>
<line x1="631.20" y1="813.20" x2="631.20" y2="815.40" stroke="#fff" stroke-width="0.5"/>
<line x1="631.20" y1="822.30" x2="631.20" y2="824.50" stroke="#fff" stroke-width="0.5"/>
</g>
</svg>
</body></html>
